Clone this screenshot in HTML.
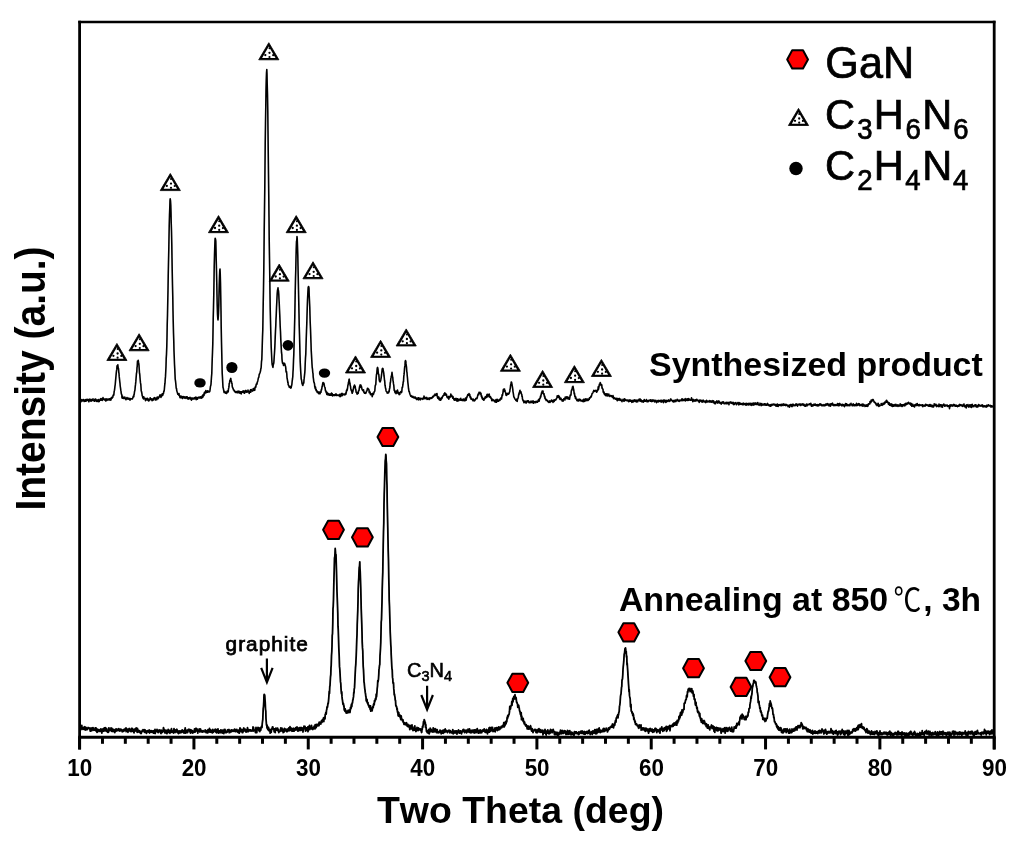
<!DOCTYPE html>
<html lang="en">
<head>
<meta charset="utf-8">
<title>XRD patterns</title>
<style>
html,body{margin:0;padding:0;background:#fff;}
body{width:1024px;height:848px;overflow:hidden;}
svg{display:block;}
text{font-family:"Liberation Sans","Noto Sans CJK KR",sans-serif;fill:#000;font-kerning:none;}
.b{font-weight:bold;}
.cv2{stroke-width:1.8 !important;}
.cv{fill:none;stroke:#000;stroke-width:1.6;stroke-linejoin:round;stroke-linecap:round;}
.ax line{stroke:#000;stroke-width:3.0;}
.tl text{font-weight:bold;font-size:22.4px;}
.ar{fill:none;stroke:#000;stroke-width:2.2;stroke-linecap:butt;stroke-linejoin:miter;}
.th text, text.th{stroke:#000;stroke-width:0.6;}
.lg text{stroke:#000;stroke-width:0.7;}
</style>
</head>
<body>
<svg width="1024" height="848" viewBox="0 0 1024 848">
<defs>
<g id="tri">
<polygon points="0,-17.5 -10.1,-0.4 10.1,-0.4" fill="#000" stroke="#000" stroke-width="0.8" stroke-linejoin="round"/>
<polygon points="0,-13.7 -6.7,-2.15 6.7,-2.15" fill="#fff"/>
<circle cx="0.7" cy="-7.4" r="1.15" fill="#000"/>
<circle cx="-3.5" cy="-5.1" r="1.15" fill="#000"/>
<circle cx="0.7" cy="-3.2" r="1.1" fill="#000"/>
<circle cx="0.7" cy="-11.9" r="1.0" fill="#000"/>
<circle cx="4.4" cy="-5.0" r="1.1" fill="#000"/>
</g>
<g id="hex">
<polygon points="-10.4,0 -5.4,-9.1 5.4,-9.1 10.4,0 5.4,9.1 -5.4,9.1" fill="#ff0000" stroke="#000" stroke-width="2" stroke-linejoin="round"/>
</g>
</defs>
<rect x="0" y="0" width="1024" height="848" fill="#fff"/>
<!-- curves -->
<path class="cv" d="M81.0,401.8 81.2,401.0 81.5,400.6 81.8,399.5 82.0,400.6 82.2,400.7 82.5,401.0 82.8,400.5 83.0,400.6 83.2,400.5 83.5,399.6 83.8,400.9 84.0,401.0 84.2,401.5 84.5,400.5 84.8,400.3 85.0,400.2 85.2,399.7 85.5,401.2 85.8,399.7 86.0,399.6 86.2,400.0 86.5,400.9 86.8,400.0 87.0,399.2 87.2,399.4 87.5,400.2 87.8,399.5 88.0,399.4 88.2,399.8 88.5,400.8 88.8,401.8 89.0,399.9 89.2,400.1 89.5,400.2 89.8,399.1 90.0,400.1 90.2,399.7 90.5,401.0 90.8,400.2 91.0,399.5 91.2,401.1 91.5,400.4 91.8,399.7 92.0,400.5 92.2,400.2 92.5,400.1 92.8,400.3 93.0,398.9 93.2,400.2 93.5,400.7 93.8,400.6 94.0,400.7 94.2,400.9 94.5,401.2 94.8,399.4 95.0,400.6 95.2,399.0 95.5,399.8 95.8,399.2 96.0,400.8 96.2,401.1 96.5,400.0 96.8,401.4 97.0,400.2 97.2,400.7 97.5,400.5 97.8,399.9 98.0,400.7 98.2,401.7 98.5,399.5 98.8,400.6 99.0,400.2 99.2,401.5 99.5,400.4 99.8,400.4 100.0,400.4 100.2,400.1 100.5,398.8 100.8,400.3 101.0,398.5 101.2,399.8 101.5,400.0 101.8,399.1 102.0,399.7 102.2,400.4 102.5,399.4 102.8,398.8 103.0,397.5 103.2,398.8 103.5,399.1 103.8,399.2 104.0,398.9 104.2,399.9 104.5,399.4 104.8,399.4 105.0,400.0 105.2,399.0 105.5,399.3 105.8,401.0 106.0,400.3 106.2,398.8 106.5,399.5 106.8,400.1 107.0,400.3 107.2,399.6 107.5,399.1 107.8,399.1 108.0,399.9 108.2,399.8 108.5,399.1 108.8,399.6 109.0,399.3 109.2,400.0 109.5,398.9 109.8,399.6 110.0,399.8 110.2,399.5 110.5,398.4 110.8,400.2 111.0,398.4 111.2,399.2 111.5,398.3 111.8,397.4 112.0,398.2 112.2,398.1 112.5,397.0 112.8,397.3 113.0,395.8 113.2,395.2 113.5,394.8 113.8,395.2 114.0,393.1 114.2,391.3 114.5,390.2 114.8,387.9 115.0,385.9 115.2,384.8 115.5,381.4 115.8,378.1 116.0,375.8 116.2,373.7 116.5,370.9 116.8,369.4 117.0,366.0 117.2,365.8 117.5,365.3 117.8,364.8 118.0,366.3 118.2,367.9 118.5,368.6 118.8,372.3 119.0,373.5 119.2,376.4 119.5,379.0 119.8,381.8 120.0,383.3 120.2,386.0 120.5,387.9 120.8,390.2 121.0,391.0 121.2,393.1 121.5,394.3 121.8,394.7 122.0,398.0 122.2,396.6 122.5,396.2 122.8,398.3 123.0,397.3 123.2,398.0 123.5,398.4 123.8,397.6 124.0,398.1 124.2,398.1 124.5,398.3 124.8,397.1 125.0,397.5 125.2,398.2 125.5,399.1 125.8,399.1 126.0,399.7 126.2,399.0 126.5,398.2 126.8,398.6 127.0,397.5 127.2,398.3 127.5,398.0 127.8,398.9 128.0,399.2 128.2,398.7 128.5,398.7 128.8,398.1 129.0,398.7 129.2,399.2 129.5,399.1 129.8,398.5 130.0,400.2 130.2,399.7 130.5,398.8 130.8,398.6 131.0,398.7 131.2,399.0 131.5,398.8 131.8,398.7 132.0,398.8 132.2,399.0 132.5,398.8 132.8,397.6 133.0,397.5 133.2,396.4 133.5,395.9 133.8,396.8 134.0,394.2 134.2,394.5 134.5,391.7 134.8,390.8 135.0,389.5 135.2,386.9 135.5,384.7 135.8,381.9 136.0,379.1 136.2,376.5 136.5,373.1 136.8,372.0 137.0,367.6 137.2,366.5 137.5,361.0 137.8,361.6 138.0,361.2 138.2,360.4 138.5,362.2 138.8,363.7 139.0,365.4 139.2,368.7 139.5,373.3 139.8,374.6 140.0,377.5 140.2,380.0 140.5,382.9 140.8,384.3 141.0,387.2 141.2,390.9 141.5,391.5 141.8,393.0 142.0,394.1 142.2,396.0 142.5,396.0 142.8,397.9 143.0,397.6 143.2,397.7 143.5,398.9 143.8,396.8 144.0,398.1 144.2,398.8 144.5,398.3 144.8,398.9 145.0,398.3 145.2,398.4 145.5,400.6 145.8,399.3 146.0,398.8 146.2,399.3 146.5,398.5 146.8,399.3 147.0,399.1 147.2,400.0 147.5,398.4 147.8,400.0 148.0,400.0 148.2,399.1 148.5,400.9 148.8,399.4 149.0,400.7 149.2,400.0 149.5,399.9 149.8,399.2 150.0,399.7 150.2,397.7 150.5,399.3 150.8,399.1 151.0,399.4 151.2,399.2 151.5,399.8 151.8,398.9 152.0,400.6 152.2,400.6 152.5,399.0 152.8,399.2 153.0,399.4 153.2,399.8 153.5,400.0 153.8,398.0 154.0,398.5 154.2,398.0 154.5,397.9 154.8,397.6 155.0,398.9 155.2,398.4 155.5,400.0 155.8,399.5 156.0,398.2 156.2,398.4 156.5,398.4 156.8,399.6 157.0,397.7 157.2,397.1 157.5,398.0 157.8,398.4 158.0,397.2 158.2,398.6 158.5,397.8 158.8,397.7 159.0,396.7 159.2,396.9 159.5,396.6 159.8,395.1 160.0,396.8 160.2,395.0 160.5,396.4 160.8,395.1 161.0,397.4 161.2,396.0 161.5,396.3 161.8,396.1 162.0,394.5 162.2,393.8 162.5,394.7 162.8,395.2 163.0,394.1 163.2,394.0 163.5,393.4 163.8,391.1 164.0,391.1 164.2,391.0 164.5,387.5 164.8,384.4 165.0,383.2 165.2,379.6 165.5,376.4 165.8,370.7 166.0,366.3 166.2,358.6 166.5,354.1 166.8,346.5 167.0,337.2 167.2,324.8 167.5,315.1 167.8,300.5 168.0,290.3 168.2,276.5 168.5,262.2 168.8,250.0 169.0,237.0 169.2,226.1 169.5,215.3 169.8,207.7 170.0,200.3 170.2,198.9 170.5,200.6 170.8,205.3 171.0,212.1 171.2,222.6 171.5,231.2 171.8,244.2 172.0,258.0 172.2,271.1 172.5,285.2 172.8,297.3 173.0,310.9 173.2,321.3 173.5,332.9 173.8,341.5 174.0,351.0 174.2,356.3 174.5,364.2 174.8,369.4 175.0,374.4 175.2,379.1 175.5,380.8 175.8,383.5 176.0,385.8 176.2,388.3 176.5,388.4 176.8,391.1 177.0,391.1 177.2,392.0 177.5,393.1 177.8,394.3 178.0,393.9 178.2,394.1 178.5,394.8 178.8,395.1 179.0,393.6 179.2,395.1 179.5,395.6 179.8,396.8 180.0,397.7 180.2,396.9 180.5,396.5 180.8,396.0 181.0,396.9 181.2,397.7 181.5,397.8 181.8,396.6 182.0,397.2 182.2,397.7 182.5,398.5 182.8,397.4 183.0,396.6 183.2,396.7 183.5,397.0 183.8,396.7 184.0,397.8 184.2,397.9 184.5,397.6 184.8,398.1 185.0,396.9 185.2,397.4 185.5,397.4 185.8,397.5 186.0,398.4 186.2,397.8 186.5,396.7 186.8,397.7 187.0,397.7 187.2,396.9 187.5,397.8 187.8,398.8 188.0,399.1 188.2,397.8 188.5,399.0 188.8,399.0 189.0,397.8 189.2,398.1 189.5,398.0 189.8,398.3 190.0,397.2 190.2,398.0 190.5,398.8 190.8,399.0 191.0,399.6 191.2,398.4 191.5,400.1 191.8,399.1 192.0,397.9 192.2,399.2 192.5,398.4 192.8,399.0 193.0,398.5 193.2,398.9 193.5,398.4 193.8,398.0 194.0,399.0 194.2,398.3 194.5,397.7 194.8,398.7 195.0,397.9 195.2,397.7 195.5,397.8 195.8,397.1 196.0,398.0 196.2,399.6 196.5,397.9 196.8,398.4 197.0,397.6 197.2,397.9 197.5,399.1 197.8,398.5 198.0,397.5 198.2,397.9 198.5,397.3 198.8,397.3 199.0,397.0 199.2,397.3 199.5,398.0 199.8,397.8 200.0,397.9 200.2,397.6 200.5,396.8 200.8,397.6 201.0,397.0 201.2,398.3 201.5,398.0 201.8,397.8 202.0,396.8 202.2,395.8 202.5,397.5 202.8,397.3 203.0,394.9 203.2,395.6 203.5,395.9 203.8,394.0 204.0,395.3 204.2,393.3 204.5,392.3 204.8,393.6 205.0,392.6 205.2,391.7 205.5,392.5 205.8,390.6 206.0,392.8 206.2,391.2 206.5,391.8 206.8,391.3 207.0,391.8 207.2,392.1 207.5,390.8 207.8,392.2 208.0,391.2 208.2,391.3 208.5,391.4 208.8,391.1 209.0,391.0 209.2,392.0 209.5,390.9 209.8,391.5 210.0,390.2 210.2,388.4 210.5,386.2 210.8,385.5 211.0,384.1 211.2,381.1 211.5,376.8 211.8,373.5 212.0,365.9 212.2,359.4 212.5,352.3 212.8,344.0 213.0,331.9 213.2,318.8 213.5,307.2 213.8,294.3 214.0,281.0 214.2,266.7 214.5,255.2 214.8,246.4 215.0,240.2 215.2,238.2 215.5,239.2 215.8,241.2 216.0,249.2 216.2,259.4 216.5,271.0 216.8,283.7 217.0,295.3 217.2,305.2 217.5,314.3 217.8,318.4 218.0,320.0 218.2,317.9 218.5,313.3 218.8,305.3 219.0,294.5 219.2,286.0 219.5,276.7 219.8,270.4 220.0,269.0 220.2,273.0 220.5,283.1 220.8,298.6 221.0,310.7 221.2,327.7 221.5,342.3 221.8,354.5 222.0,364.5 222.2,373.2 222.5,378.1 222.8,383.7 223.0,387.4 223.2,387.8 223.5,389.3 223.8,390.8 224.0,392.2 224.2,392.6 224.5,392.3 224.8,391.5 225.0,391.7 225.2,392.7 225.5,393.2 225.8,392.2 226.0,392.7 226.2,393.0 226.5,393.5 226.8,392.0 227.0,392.8 227.2,391.1 227.5,391.2 227.8,391.4 228.0,391.8 228.2,391.9 228.5,388.7 228.8,387.7 229.0,386.5 229.2,383.6 229.5,383.5 229.8,380.6 230.0,381.4 230.2,380.1 230.5,379.0 230.8,378.4 231.0,380.6 231.2,380.7 231.5,381.6 231.8,383.5 232.0,383.4 232.2,386.1 232.5,387.4 232.8,387.8 233.0,388.5 233.2,388.7 233.5,390.0 233.8,390.1 234.0,390.2 234.2,390.3 234.5,391.5 234.8,391.7 235.0,391.2 235.2,391.8 235.5,392.3 235.8,392.5 236.0,391.9 236.2,391.6 236.5,391.7 236.8,392.0 237.0,392.4 237.2,392.6 237.5,391.7 237.8,391.8 238.0,391.0 238.2,392.7 238.5,391.5 238.8,392.0 239.0,391.4 239.2,391.8 239.5,391.4 239.8,393.1 240.0,392.2 240.2,392.2 240.5,391.7 240.8,391.7 241.0,392.9 241.2,393.9 241.5,391.9 241.8,392.1 242.0,392.2 242.2,391.9 242.5,391.3 242.8,391.9 243.0,392.3 243.2,390.7 243.5,391.7 243.8,392.6 244.0,392.3 244.2,391.5 244.5,393.3 244.8,391.8 245.0,390.8 245.2,392.2 245.5,390.5 245.8,391.9 246.0,390.5 246.2,391.7 246.5,391.2 246.8,392.2 247.0,391.7 247.2,391.6 247.5,391.4 247.8,391.8 248.0,390.1 248.2,391.3 248.5,391.5 248.8,391.6 249.0,391.7 249.2,393.5 249.5,391.3 249.8,391.6 250.0,391.2 250.2,392.2 250.5,389.8 250.8,392.2 251.0,390.7 251.2,389.6 251.5,390.4 251.8,390.8 252.0,390.8 252.2,390.5 252.5,391.1 252.8,390.2 253.0,389.8 253.2,388.6 253.5,390.3 253.8,390.5 254.0,389.4 254.2,388.5 254.5,388.3 254.8,390.1 255.0,387.6 255.2,387.2 255.5,386.6 255.8,387.2 256.0,385.4 256.2,384.9 256.5,383.7 256.8,384.2 257.0,384.1 257.2,382.2 257.5,381.9 257.8,380.7 258.0,379.8 258.2,378.8 258.5,377.6 258.8,377.3 259.0,376.0 259.2,374.4 259.5,374.0 259.8,373.1 260.0,372.8 260.2,372.0 260.5,371.1 260.8,368.8 261.0,368.5 261.2,366.8 261.5,361.5 261.8,359.7 262.0,353.6 262.2,346.6 262.5,337.1 262.8,329.8 263.0,316.5 263.2,303.7 263.5,289.0 263.8,270.2 264.0,251.2 264.2,230.5 264.5,209.6 264.8,188.3 265.0,165.7 265.2,144.0 265.5,123.4 265.8,105.9 266.0,90.2 266.2,81.7 266.5,73.0 266.8,69.5 267.0,73.9 267.2,84.2 267.5,94.4 267.8,111.3 268.0,130.9 268.2,150.6 268.5,174.5 268.8,197.3 269.0,217.3 269.2,239.9 269.5,258.2 269.8,276.4 270.0,294.0 270.2,308.4 270.5,320.4 270.8,332.5 271.0,339.5 271.2,347.4 271.5,353.2 271.8,359.2 272.0,362.7 272.2,365.0 272.5,365.2 272.8,367.0 273.0,367.3 273.2,365.0 273.5,364.0 273.8,363.0 274.0,360.4 274.2,356.7 274.5,352.8 274.8,347.9 275.0,342.9 275.2,337.4 275.5,330.9 275.8,325.5 276.0,319.1 276.2,315.6 276.5,308.0 276.8,302.3 277.0,297.5 277.2,293.6 277.5,290.3 277.8,289.3 278.0,287.9 278.2,290.0 278.5,290.8 278.8,294.6 279.0,299.3 279.2,302.8 279.5,309.5 279.8,315.6 280.0,320.9 280.2,326.7 280.5,331.7 280.8,339.4 281.0,343.0 281.2,347.2 281.5,352.7 281.8,354.3 282.0,359.1 282.2,361.1 282.5,363.0 282.8,363.5 283.0,363.2 283.2,363.1 283.5,365.5 283.8,363.9 284.0,363.4 284.2,364.6 284.5,363.3 284.8,364.1 285.0,364.6 285.2,365.6 285.5,366.1 285.8,368.1 286.0,371.1 286.2,372.2 286.5,371.5 286.8,374.0 287.0,377.5 287.2,378.8 287.5,380.1 287.8,382.6 288.0,382.0 288.2,384.9 288.5,385.1 288.8,385.7 289.0,386.2 289.2,387.1 289.5,386.4 289.8,386.5 290.0,387.5 290.2,387.3 290.5,386.5 290.8,388.1 291.0,387.4 291.2,387.6 291.5,385.8 291.8,385.0 292.0,383.0 292.2,380.8 292.5,379.0 292.8,376.5 293.0,371.8 293.2,369.1 293.5,360.9 293.8,354.8 294.0,347.1 294.2,339.6 294.5,328.0 294.8,316.9 295.0,304.4 295.2,292.3 295.5,279.1 295.8,269.0 296.0,257.9 296.2,249.5 296.5,241.4 296.8,240.1 297.0,236.5 297.2,238.4 297.5,246.2 297.8,255.2 298.0,266.1 298.2,276.0 298.5,290.0 298.8,303.3 299.0,313.7 299.2,325.2 299.5,334.8 299.8,345.8 300.0,354.7 300.2,361.7 300.5,367.6 300.8,372.7 301.0,375.6 301.2,378.9 301.5,379.7 301.8,381.6 302.0,383.5 302.2,383.7 302.5,384.9 302.8,385.5 303.0,384.8 303.2,383.5 303.5,382.8 303.8,382.9 304.0,379.6 304.2,378.2 304.5,375.4 304.8,372.6 305.0,369.6 305.2,363.7 305.5,357.8 305.8,354.1 306.0,346.6 306.2,339.6 306.5,331.3 306.8,323.8 307.0,316.1 307.2,308.8 307.5,300.4 307.8,294.2 308.0,290.3 308.2,287.2 308.5,286.5 308.8,286.9 309.0,288.3 309.2,295.0 309.5,301.2 309.8,307.6 310.0,315.6 310.2,322.5 310.5,328.9 310.8,337.1 311.0,343.0 311.2,350.1 311.5,355.1 311.8,360.2 312.0,364.1 312.2,367.3 312.5,369.2 312.8,372.8 313.0,373.4 313.2,377.2 313.5,379.2 313.8,381.8 314.0,382.2 314.2,382.9 314.5,383.7 314.8,387.2 315.0,386.2 315.2,388.6 315.5,387.0 315.8,389.3 316.0,390.1 316.2,390.6 316.5,390.9 316.8,390.7 317.0,391.0 317.2,392.5 317.5,392.4 317.8,392.4 318.0,392.6 318.2,391.9 318.5,393.3 318.8,393.6 319.0,392.1 319.2,392.6 319.5,393.1 319.8,392.0 320.0,393.8 320.2,393.2 320.5,391.9 320.8,392.4 321.0,392.3 321.2,389.7 321.5,390.0 321.8,388.5 322.0,387.2 322.2,386.6 322.5,384.8 322.8,383.2 323.0,382.5 323.2,382.8 323.5,383.1 323.8,383.0 324.0,383.6 324.2,384.8 324.5,386.6 324.8,387.1 325.0,387.4 325.2,388.9 325.5,391.0 325.8,390.8 326.0,391.5 326.2,392.5 326.5,392.4 326.8,394.3 327.0,392.4 327.2,394.8 327.5,393.8 327.8,393.3 328.0,394.4 328.2,393.5 328.5,394.8 328.8,395.0 329.0,394.3 329.2,394.1 329.5,395.2 329.8,394.0 330.0,394.0 330.2,394.4 330.5,395.1 330.8,393.8 331.0,394.5 331.2,395.3 331.5,393.0 331.8,394.6 332.0,393.6 332.2,393.5 332.5,395.9 332.8,394.8 333.0,395.7 333.2,394.7 333.5,395.2 333.8,394.7 334.0,394.7 334.2,395.1 334.5,395.1 334.8,395.6 335.0,394.5 335.2,395.1 335.5,394.6 335.8,395.1 336.0,393.9 336.2,395.5 336.5,394.7 336.8,395.0 337.0,394.9 337.2,395.4 337.5,395.2 337.8,395.2 338.0,395.0 338.2,395.1 338.5,395.3 338.8,395.0 339.0,395.7 339.2,395.9 339.5,395.4 339.8,394.3 340.0,396.4 340.2,396.7 340.5,395.2 340.8,395.1 341.0,394.1 341.2,395.5 341.5,394.3 341.8,395.9 342.0,393.3 342.2,394.9 342.5,395.4 342.8,394.3 343.0,394.1 343.2,394.8 343.5,394.4 343.8,394.3 344.0,394.5 344.2,394.2 344.5,394.6 344.8,394.9 345.0,394.0 345.2,394.3 345.5,393.6 345.8,394.3 346.0,392.3 346.2,393.2 346.5,390.4 346.8,391.0 347.0,389.4 347.2,390.1 347.5,388.5 347.8,386.0 348.0,384.8 348.2,384.4 348.5,382.1 348.8,381.6 349.0,379.5 349.2,379.2 349.5,381.3 349.8,383.8 350.0,383.0 350.2,385.8 350.5,386.1 350.8,389.0 351.0,389.4 351.2,390.4 351.5,390.2 351.8,392.0 352.0,392.4 352.2,393.3 352.5,391.3 352.8,392.0 353.0,390.6 353.2,389.8 353.5,388.1 353.8,386.8 354.0,386.0 354.2,387.2 354.5,385.1 354.8,385.8 355.0,387.6 355.2,386.3 355.5,389.0 355.8,389.4 356.0,391.1 356.2,392.5 356.5,392.5 356.8,392.9 357.0,394.0 357.2,394.1 357.5,393.3 357.8,393.4 358.0,392.1 358.2,393.3 358.5,390.9 358.8,390.7 359.0,390.7 359.2,389.0 359.5,387.2 359.8,386.0 360.0,385.0 360.2,385.5 360.5,385.0 360.8,385.1 361.0,387.5 361.2,385.9 361.5,386.8 361.8,388.1 362.0,389.3 362.2,389.8 362.5,389.7 362.8,390.6 363.0,390.8 363.2,390.9 363.5,389.7 363.8,392.1 364.0,391.6 364.2,392.4 364.5,393.1 364.8,392.6 365.0,392.7 365.2,393.3 365.5,393.2 365.8,393.4 366.0,392.5 366.2,392.4 366.5,391.0 366.8,391.0 367.0,390.8 367.2,389.5 367.5,388.2 367.8,388.4 368.0,388.5 368.2,389.5 368.5,389.1 368.8,389.5 369.0,389.9 369.2,392.7 369.5,391.3 369.8,391.7 370.0,393.1 370.2,392.5 370.5,394.6 370.8,393.9 371.0,394.4 371.2,393.8 371.5,394.1 371.8,395.0 372.0,395.0 372.2,396.6 372.5,395.5 372.8,393.2 373.0,394.1 373.2,393.8 373.5,394.3 373.8,392.9 374.0,392.8 374.2,391.6 374.5,391.4 374.8,391.2 375.0,388.2 375.2,385.8 375.5,385.1 375.8,384.4 376.0,380.9 376.2,377.8 376.5,374.3 376.8,373.6 377.0,370.6 377.2,368.5 377.5,367.4 377.8,368.0 378.0,369.3 378.2,372.0 378.5,374.5 378.8,374.4 379.0,376.9 379.2,379.7 379.5,381.1 379.8,380.8 380.0,381.9 380.2,381.7 380.5,381.0 380.8,379.7 381.0,378.6 381.2,377.6 381.5,375.2 381.8,373.0 382.0,371.2 382.2,369.0 382.5,368.4 382.8,368.8 383.0,368.7 383.2,370.5 383.5,371.6 383.8,373.4 384.0,376.0 384.2,377.0 384.5,380.2 384.8,381.9 385.0,385.2 385.2,386.0 385.5,388.1 385.8,388.8 386.0,390.4 386.2,391.3 386.5,391.4 386.8,391.8 387.0,392.3 387.2,393.1 387.5,392.5 387.8,392.8 388.0,392.6 388.2,392.2 388.5,392.8 388.8,392.2 389.0,390.7 389.2,391.3 389.5,388.6 389.8,388.2 390.0,386.2 390.2,382.9 390.5,382.1 390.8,378.9 391.0,377.9 391.2,376.6 391.5,375.9 391.8,374.1 392.0,372.4 392.2,374.0 392.5,376.6 392.8,377.5 393.0,380.7 393.2,381.3 393.5,383.9 393.8,385.4 394.0,387.8 394.2,390.4 394.5,390.1 394.8,392.0 395.0,392.4 395.2,392.7 395.5,392.0 395.8,392.2 396.0,393.6 396.2,391.0 396.5,392.1 396.8,392.3 397.0,391.8 397.2,392.9 397.5,390.1 397.8,392.0 398.0,391.8 398.2,393.0 398.5,393.6 398.8,393.9 399.0,393.3 399.2,394.6 399.5,392.9 399.8,394.3 400.0,393.2 400.2,392.2 400.5,392.3 400.8,391.6 401.0,391.7 401.2,392.2 401.5,392.6 401.8,391.7 402.0,389.0 402.2,387.2 402.5,387.5 402.8,385.3 403.0,384.2 403.2,381.9 403.5,381.6 403.8,376.3 404.0,374.9 404.2,373.2 404.5,368.9 404.8,366.1 405.0,365.4 405.2,361.3 405.5,360.6 405.8,361.1 406.0,363.4 406.2,365.1 406.5,367.1 406.8,371.7 407.0,372.5 407.2,375.5 407.5,378.2 407.8,381.9 408.0,383.6 408.2,385.4 408.5,388.5 408.8,390.2 409.0,391.6 409.2,391.3 409.5,392.4 409.8,393.8 410.0,394.2 410.2,394.7 410.5,395.4 410.8,396.3 411.0,395.6 411.2,396.4 411.5,396.0 411.8,396.5 412.0,396.8 412.2,397.3 412.5,397.1 412.8,396.2 413.0,397.1 413.2,397.2 413.5,397.2 413.8,397.1 414.0,398.0 414.2,397.7 414.5,397.0 414.8,397.0 415.0,396.9 415.2,398.2 415.5,397.5 415.8,397.9 416.0,398.0 416.2,398.7 416.5,399.4 416.8,398.2 417.0,399.5 417.2,398.5 417.5,399.1 417.8,398.2 418.0,397.8 418.2,399.0 418.5,399.8 418.8,397.9 419.0,399.0 419.2,399.1 419.5,399.4 419.8,398.2 420.0,398.2 420.2,399.1 420.5,399.8 420.8,398.4 421.0,399.0 421.2,398.7 421.5,398.8 421.8,398.5 422.0,398.6 422.2,398.3 422.5,398.7 422.8,399.3 423.0,398.4 423.2,398.7 423.5,397.9 423.8,398.6 424.0,396.1 424.2,397.1 424.5,397.9 424.8,397.3 425.0,398.8 425.2,398.5 425.5,398.0 425.8,398.5 426.0,397.9 426.2,398.1 426.5,398.3 426.8,397.4 427.0,399.4 427.2,398.3 427.5,399.3 427.8,398.6 428.0,399.1 428.2,398.2 428.5,398.6 428.8,398.3 429.0,398.8 429.2,399.5 429.5,398.0 429.8,397.9 430.0,398.5 430.2,398.7 430.5,398.2 430.8,397.8 431.0,397.8 431.2,398.2 431.5,398.4 431.8,397.5 432.0,397.6 432.2,397.9 432.5,397.2 432.8,396.4 433.0,397.3 433.2,396.8 433.5,396.5 433.8,396.3 434.0,395.3 434.2,395.7 434.5,395.6 434.8,395.2 435.0,394.1 435.2,395.2 435.5,395.3 435.8,395.4 436.0,394.6 436.2,395.0 436.5,393.9 436.8,394.5 437.0,393.6 437.2,395.7 437.5,397.4 437.8,398.1 438.0,396.6 438.2,398.0 438.5,398.7 438.8,398.1 439.0,397.3 439.2,399.6 439.5,398.6 439.8,398.6 440.0,400.2 440.2,399.1 440.5,399.5 440.8,400.1 441.0,398.6 441.2,397.9 441.5,398.9 441.8,398.0 442.0,398.3 442.2,397.7 442.5,396.4 442.8,396.6 443.0,395.8 443.2,395.6 443.5,395.3 443.8,395.1 444.0,394.7 444.2,393.5 444.5,394.5 444.8,392.9 445.0,395.1 445.2,393.3 445.5,394.0 445.8,395.0 446.0,394.2 446.2,394.1 446.5,394.7 446.8,396.4 447.0,396.8 447.2,397.4 447.5,397.5 447.8,397.1 448.0,397.9 448.2,398.2 448.5,396.5 448.8,399.1 449.0,396.5 449.2,397.4 449.5,397.7 449.8,396.9 450.0,396.3 450.2,396.6 450.5,396.9 450.8,394.0 451.0,395.8 451.2,395.3 451.5,395.0 451.8,395.8 452.0,396.1 452.2,396.9 452.5,396.5 452.8,398.3 453.0,396.6 453.2,397.7 453.5,398.1 453.8,399.3 454.0,398.9 454.2,400.0 454.5,399.1 454.8,400.3 455.0,399.9 455.2,399.0 455.5,398.5 455.8,398.5 456.0,398.3 456.2,400.1 456.5,400.1 456.8,399.1 457.0,401.1 457.2,399.5 457.5,398.8 457.8,400.8 458.0,400.9 458.2,400.0 458.5,399.3 458.8,400.7 459.0,399.5 459.2,399.8 459.5,400.1 459.8,400.0 460.0,399.4 460.2,398.8 460.5,400.1 460.8,398.3 461.0,399.8 461.2,399.8 461.5,400.1 461.8,399.8 462.0,400.3 462.2,400.6 462.5,399.5 462.8,400.0 463.0,400.2 463.2,399.0 463.5,399.0 463.8,400.7 464.0,400.4 464.2,399.2 464.5,400.1 464.8,399.8 465.0,400.7 465.2,400.4 465.5,398.1 465.8,399.2 466.0,400.2 466.2,400.2 466.5,398.2 466.8,397.0 467.0,397.4 467.2,396.1 467.5,395.9 467.8,394.5 468.0,395.4 468.2,395.2 468.5,395.3 468.8,394.3 469.0,393.6 469.2,394.2 469.5,395.6 469.8,394.6 470.0,396.6 470.2,397.7 470.5,396.6 470.8,397.7 471.0,399.1 471.2,399.1 471.5,398.3 471.8,398.9 472.0,399.2 472.2,399.2 472.5,399.9 472.8,399.8 473.0,400.8 473.2,399.0 473.5,400.8 473.8,400.8 474.0,400.1 474.2,400.4 474.5,400.8 474.8,400.2 475.0,399.7 475.2,400.0 475.5,399.2 475.8,398.6 476.0,398.7 476.2,398.3 476.5,398.7 476.8,398.8 477.0,397.7 477.2,398.1 477.5,396.4 477.8,395.3 478.0,394.6 478.2,394.0 478.5,393.9 478.8,394.7 479.0,392.3 479.2,393.2 479.5,392.6 479.8,393.1 480.0,392.2 480.2,393.2 480.5,393.1 480.8,394.4 481.0,393.3 481.2,395.9 481.5,396.6 481.8,396.0 482.0,398.2 482.2,397.2 482.5,399.1 482.8,399.0 483.0,399.5 483.2,399.6 483.5,398.5 483.8,400.3 484.0,399.9 484.2,398.2 484.5,399.0 484.8,398.7 485.0,397.7 485.2,396.9 485.5,398.0 485.8,396.7 486.0,397.2 486.2,397.5 486.5,396.2 486.8,394.9 487.0,396.1 487.2,394.4 487.5,394.7 487.8,397.0 488.0,394.5 488.2,395.5 488.5,394.8 488.8,395.5 489.0,395.8 489.2,394.1 489.5,395.9 489.8,397.1 490.0,397.5 490.2,397.5 490.5,396.7 490.8,398.2 491.0,397.8 491.2,398.0 491.5,398.9 491.8,400.7 492.0,399.0 492.2,400.6 492.5,400.2 492.8,399.4 493.0,399.9 493.2,400.3 493.5,400.1 493.8,400.7 494.0,400.3 494.2,400.4 494.5,401.6 494.8,400.8 495.0,400.6 495.2,401.1 495.5,402.1 495.8,400.3 496.0,399.6 496.2,401.3 496.5,402.2 496.8,401.4 497.0,399.6 497.2,399.4 497.5,401.2 497.8,400.2 498.0,400.6 498.2,400.0 498.5,401.2 498.8,400.4 499.0,400.0 499.2,400.5 499.5,399.7 499.8,400.5 500.0,400.3 500.2,398.7 500.5,398.9 500.8,398.4 501.0,397.8 501.2,398.8 501.5,398.9 501.8,397.4 502.0,395.6 502.2,394.6 502.5,395.4 502.8,393.5 503.0,392.3 503.2,390.3 503.5,389.2 503.8,391.5 504.0,389.1 504.2,389.2 504.5,389.0 504.8,391.2 505.0,390.5 505.2,391.5 505.5,392.6 505.8,393.6 506.0,395.2 506.2,393.4 506.5,395.4 506.8,394.6 507.0,394.7 507.2,394.2 507.5,394.5 507.8,393.2 508.0,393.4 508.2,394.3 508.5,393.7 508.8,393.4 509.0,393.6 509.2,393.0 509.5,392.1 509.8,391.5 510.0,389.3 510.2,389.0 510.5,386.0 510.8,384.4 511.0,384.5 511.2,382.1 511.5,382.1 511.8,383.3 512.0,385.0 512.2,385.7 512.5,387.5 512.8,389.4 513.0,391.8 513.2,392.7 513.5,394.7 513.8,397.0 514.0,396.9 514.2,397.6 514.5,398.0 514.8,398.8 515.0,399.0 515.2,399.3 515.5,399.4 515.8,400.2 516.0,400.5 516.2,399.9 516.5,400.3 516.8,399.1 517.0,401.2 517.2,401.3 517.5,399.0 517.8,398.9 518.0,398.1 518.2,397.8 518.5,395.6 518.8,393.8 519.0,394.6 519.2,392.7 519.5,392.5 519.8,390.8 520.0,390.3 520.2,391.8 520.5,392.6 520.8,391.7 521.0,391.9 521.2,393.6 521.5,394.0 521.8,394.4 522.0,396.7 522.2,396.2 522.5,399.1 522.8,399.7 523.0,400.7 523.2,400.3 523.5,401.2 523.8,402.2 524.0,402.7 524.2,402.5 524.5,402.0 524.8,401.1 525.0,402.2 525.2,401.8 525.5,401.6 525.8,402.9 526.0,401.3 526.2,403.0 526.5,401.5 526.8,401.3 527.0,401.8 527.2,400.9 527.5,401.4 527.8,401.9 528.0,400.7 528.2,401.3 528.5,400.9 528.8,401.5 529.0,402.7 529.2,401.9 529.5,402.3 529.8,402.6 530.0,402.0 530.2,402.8 530.5,402.0 530.8,402.0 531.0,401.1 531.2,401.5 531.5,402.5 531.8,402.4 532.0,401.5 532.2,402.0 532.5,401.6 532.8,401.2 533.0,400.8 533.2,403.3 533.5,401.6 533.8,402.3 534.0,402.9 534.2,401.7 534.5,401.7 534.8,402.0 535.0,401.6 535.2,401.8 535.5,401.6 535.8,402.7 536.0,402.3 536.2,401.5 536.5,401.3 536.8,401.6 537.0,401.5 537.2,401.3 537.5,402.3 537.8,401.3 538.0,401.2 538.2,401.2 538.5,399.6 538.8,401.2 539.0,401.1 539.2,401.1 539.5,398.9 539.8,398.6 540.0,398.7 540.2,397.6 540.5,396.1 540.8,396.9 541.0,395.1 541.2,394.6 541.5,392.8 541.8,393.4 542.0,391.8 542.2,391.0 542.5,391.8 542.8,392.1 543.0,391.0 543.2,392.9 543.5,394.0 543.8,393.9 544.0,393.6 544.2,395.6 544.5,396.7 544.8,396.1 545.0,398.6 545.2,397.9 545.5,398.5 545.8,399.5 546.0,399.4 546.2,400.5 546.5,400.0 546.8,400.3 547.0,400.1 547.2,400.4 547.5,401.0 547.8,401.4 548.0,401.1 548.2,401.9 548.5,401.3 548.8,402.4 549.0,402.0 549.2,401.5 549.5,400.9 549.8,401.4 550.0,402.4 550.2,401.4 550.5,401.9 550.8,401.5 551.0,401.1 551.2,400.7 551.5,400.0 551.8,401.2 552.0,401.3 552.2,401.2 552.5,401.6 552.8,400.6 553.0,402.4 553.2,400.2 553.5,401.2 553.8,400.0 554.0,400.6 554.2,401.4 554.5,399.7 554.8,400.4 555.0,400.4 555.2,400.0 555.5,400.0 555.8,399.9 556.0,399.4 556.2,398.8 556.5,398.7 556.8,397.8 557.0,397.2 557.2,395.9 557.5,397.1 557.8,396.0 558.0,397.1 558.2,395.9 558.5,395.6 558.8,397.2 559.0,396.4 559.2,396.2 559.5,398.6 559.8,397.4 560.0,399.4 560.2,398.2 560.5,399.4 560.8,399.3 561.0,398.4 561.2,399.5 561.5,399.3 561.8,399.8 562.0,400.4 562.2,401.0 562.5,399.8 562.8,399.8 563.0,401.2 563.2,400.4 563.5,400.4 563.8,398.8 564.0,398.7 564.2,399.1 564.5,398.9 564.8,398.8 565.0,399.9 565.2,397.1 565.5,397.2 565.8,397.7 566.0,397.4 566.2,397.8 566.5,397.2 566.8,396.8 567.0,398.8 567.2,397.9 567.5,397.0 567.8,397.6 568.0,398.3 568.2,397.4 568.5,399.0 568.8,398.3 569.0,398.2 569.2,398.1 569.5,399.3 569.8,397.6 570.0,396.4 570.2,395.0 570.5,395.1 570.8,395.3 571.0,394.7 571.2,392.0 571.5,390.0 571.8,390.4 572.0,389.0 572.2,388.8 572.5,386.9 572.8,387.1 573.0,386.2 573.2,387.5 573.5,388.9 573.8,390.2 574.0,392.0 574.2,393.8 574.5,393.3 574.8,396.3 575.0,395.8 575.2,396.7 575.5,398.5 575.8,397.0 576.0,398.0 576.2,398.7 576.5,399.4 576.8,400.2 577.0,400.6 577.2,399.4 577.5,400.3 577.8,399.7 578.0,401.0 578.2,400.0 578.5,400.9 578.8,399.4 579.0,400.7 579.2,399.4 579.5,400.4 579.8,399.3 580.0,400.5 580.2,400.0 580.5,399.7 580.8,400.4 581.0,400.9 581.2,400.3 581.5,400.5 581.8,400.6 582.0,400.9 582.2,401.1 582.5,400.4 582.8,401.5 583.0,400.1 583.2,400.7 583.5,399.3 583.8,401.6 584.0,400.0 584.2,400.7 584.5,401.2 584.8,399.8 585.0,399.4 585.2,398.8 585.5,399.8 585.8,400.9 586.0,399.5 586.2,400.6 586.5,400.2 586.8,399.3 587.0,398.8 587.2,399.7 587.5,400.4 587.8,400.2 588.0,400.2 588.2,400.3 588.5,399.6 588.8,398.9 589.0,399.3 589.2,399.5 589.5,397.8 589.8,397.7 590.0,397.5 590.2,397.9 590.5,397.5 590.8,397.1 591.0,396.1 591.2,396.9 591.5,395.7 591.8,395.0 592.0,393.7 592.2,393.7 592.5,393.1 592.8,393.0 593.0,392.5 593.2,391.7 593.5,391.4 593.8,390.4 594.0,391.4 594.2,391.4 594.5,391.1 594.8,390.5 595.0,391.1 595.2,390.9 595.5,390.5 595.8,391.1 596.0,390.4 596.2,390.3 596.5,392.2 596.8,391.8 597.0,391.8 597.2,390.5 597.5,390.7 597.8,390.4 598.0,389.2 598.2,386.9 598.5,389.3 598.8,387.7 599.0,386.8 599.2,385.2 599.5,384.0 599.8,384.4 600.0,384.1 600.2,382.6 600.5,383.2 600.8,384.3 601.0,385.4 601.2,385.1 601.5,384.7 601.8,384.9 602.0,388.1 602.2,387.7 602.5,388.8 602.8,389.0 603.0,389.1 603.2,392.3 603.5,391.9 603.8,392.9 604.0,392.0 604.2,393.2 604.5,394.7 604.8,393.7 605.0,393.8 605.2,394.0 605.5,394.0 605.8,395.7 606.0,395.1 606.2,393.7 606.5,395.7 606.8,395.8 607.0,395.8 607.2,393.8 607.5,395.2 607.8,395.9 608.0,394.5 608.2,395.0 608.5,395.3 608.8,394.0 609.0,395.5 609.2,395.9 609.5,395.8 609.8,396.5 610.0,395.6 610.2,395.5 610.5,395.7 610.8,395.5 611.0,395.6 611.2,395.7 611.5,396.4 611.8,396.1 612.0,396.8 612.2,396.4 612.5,397.1 612.8,396.1 613.0,395.6 613.2,396.4 613.5,398.6 613.8,398.1 614.0,397.6 614.2,397.9 614.5,398.3 614.8,398.1 615.0,398.6 615.2,399.0 615.5,399.2 615.8,398.3 616.0,398.4 616.2,398.7 616.5,398.9 616.8,399.7 617.0,398.4 617.2,400.7 617.5,399.8 617.8,400.3 618.0,398.7 618.2,399.3 618.5,399.3 618.8,399.9 619.0,398.5 619.2,400.0 619.5,398.6 619.8,400.0 620.0,400.3 620.2,399.4 620.5,399.2 620.8,399.3 621.0,399.6 621.2,400.3 621.5,400.8 621.8,400.8 622.0,401.6 622.2,400.7 622.5,400.2 622.8,400.2 623.0,399.4 623.2,400.0 623.5,399.8 623.8,401.2 624.0,400.4 624.2,401.1 624.5,398.7 624.8,400.1 625.0,400.6 625.2,400.3 625.5,399.5 625.8,400.1 626.0,400.1 626.2,400.4 626.5,400.4 626.8,400.6 627.0,400.1 627.2,400.6 627.5,400.4 627.8,400.9 628.0,400.1 628.2,401.1 628.5,400.7 628.8,401.7 629.0,400.4 629.2,400.8 629.5,400.5 629.8,399.9 630.0,401.2 630.2,400.7 630.5,400.3 630.8,401.3 631.0,400.4 631.2,400.9 631.5,401.5 631.8,402.3 632.0,400.8 632.2,401.9 632.5,401.1 632.8,400.4 633.0,401.2 633.2,402.0 633.5,401.4 633.8,401.5 634.0,400.6 634.2,399.7 634.5,401.1 634.8,400.1 635.0,400.9 635.2,400.8 635.5,401.2 635.8,401.6 636.0,400.1 636.2,401.1 636.5,400.9 636.8,401.9 637.0,400.7 637.2,400.3 637.5,400.2 637.8,401.6 638.0,400.0 638.2,400.7 638.5,400.6 638.8,399.7 639.0,399.7 639.2,399.1 639.5,400.0 639.8,400.9 640.0,400.4 640.2,399.1 640.5,401.2 640.8,399.6 641.0,400.0 641.2,401.5 641.5,400.8 641.8,400.6 642.0,401.9 642.2,401.1 642.5,401.6 642.8,400.8 643.0,401.2 643.2,401.3 643.5,402.1 643.8,400.7 644.0,400.9 644.2,399.5 644.5,399.8 644.8,401.2 645.0,400.5 645.2,400.5 645.5,401.2 645.8,400.6 646.0,400.8 646.2,400.7 646.5,399.5 646.8,401.1 647.0,401.7 647.2,401.7 647.5,400.9 647.8,400.9 648.0,400.8 648.2,401.6 648.5,401.4 648.8,400.3 649.0,400.4 649.2,400.6 649.5,400.4 649.8,400.5 650.0,400.8 650.2,399.7 650.5,401.3 650.8,400.7 651.0,400.1 651.2,401.0 651.5,400.6 651.8,401.6 652.0,400.1 652.2,401.0 652.5,401.1 652.8,400.3 653.0,399.9 653.2,400.8 653.5,400.6 653.8,400.2 654.0,400.1 654.2,401.4 654.5,401.8 654.8,400.5 655.0,401.2 655.2,401.6 655.5,401.4 655.8,400.2 656.0,401.0 656.2,401.3 656.5,402.6 656.8,401.4 657.0,401.8 657.2,401.8 657.5,401.7 657.8,400.6 658.0,401.4 658.2,402.0 658.5,400.6 658.8,401.1 659.0,400.4 659.2,401.1 659.5,401.1 659.8,401.4 660.0,400.6 660.2,400.6 660.5,400.4 660.8,401.0 661.0,400.9 661.2,402.2 661.5,400.4 661.8,401.4 662.0,400.7 662.2,400.7 662.5,401.6 662.8,401.4 663.0,401.4 663.2,400.1 663.5,402.6 663.8,402.4 664.0,400.7 664.2,400.1 664.5,400.7 664.8,401.2 665.0,400.4 665.2,401.1 665.5,400.5 665.8,402.5 666.0,400.7 666.2,400.4 666.5,402.0 666.8,401.1 667.0,400.6 667.2,400.6 667.5,401.3 667.8,400.8 668.0,400.9 668.2,400.4 668.5,399.9 668.8,400.6 669.0,400.8 669.2,401.4 669.5,400.6 669.8,400.3 670.0,400.8 670.2,400.9 670.5,399.1 670.8,400.2 671.0,399.1 671.2,399.4 671.5,399.8 671.8,400.2 672.0,400.4 672.2,400.5 672.5,401.5 672.8,400.9 673.0,400.9 673.2,400.6 673.5,401.9 673.8,401.5 674.0,400.5 674.2,400.3 674.5,401.3 674.8,401.6 675.0,400.7 675.2,401.4 675.5,400.1 675.8,400.7 676.0,401.4 676.2,400.2 676.5,400.4 676.8,400.4 677.0,400.3 677.2,399.4 677.5,400.2 677.8,400.7 678.0,400.7 678.2,401.0 678.5,401.1 678.8,400.3 679.0,400.1 679.2,401.4 679.5,400.7 679.8,400.3 680.0,400.3 680.2,400.8 680.5,400.7 680.8,400.1 681.0,400.3 681.2,399.9 681.5,399.4 681.8,400.6 682.0,398.7 682.2,400.1 682.5,399.1 682.8,399.4 683.0,400.6 683.2,399.7 683.5,399.9 683.8,399.6 684.0,399.7 684.2,400.0 684.5,400.4 684.8,399.3 685.0,400.1 685.2,398.5 685.5,400.9 685.8,399.4 686.0,399.7 686.2,400.1 686.5,399.8 686.8,399.7 687.0,398.9 687.2,400.5 687.5,400.3 687.8,399.4 688.0,398.9 688.2,399.9 688.5,400.4 688.8,398.6 689.0,399.0 689.2,399.9 689.5,399.5 689.8,399.9 690.0,399.8 690.2,400.3 690.5,400.2 690.8,400.2 691.0,400.1 691.2,399.2 691.5,397.9 691.8,400.0 692.0,400.2 692.2,400.2 692.5,399.9 692.8,401.7 693.0,399.2 693.2,400.6 693.5,400.5 693.8,400.7 694.0,401.0 694.2,400.1 694.5,400.0 694.8,400.1 695.0,401.1 695.2,400.9 695.5,400.9 695.8,399.8 696.0,399.7 696.2,400.6 696.5,400.7 696.8,399.3 697.0,399.5 697.2,400.1 697.5,400.4 697.8,400.5 698.0,400.9 698.2,400.2 698.5,400.8 698.8,401.5 699.0,400.7 699.2,402.4 699.5,400.7 699.8,401.0 700.0,399.9 700.2,401.0 700.5,400.8 700.8,400.7 701.0,401.4 701.2,400.8 701.5,401.7 701.8,400.3 702.0,401.3 702.2,402.2 702.5,401.3 702.8,401.7 703.0,400.5 703.2,400.2 703.5,401.8 703.8,401.6 704.0,401.6 704.2,401.0 704.5,401.8 704.8,401.3 705.0,402.0 705.2,401.9 705.5,401.1 705.8,402.6 706.0,402.0 706.2,402.1 706.5,400.4 706.8,400.7 707.0,401.1 707.2,401.5 707.5,401.9 707.8,401.4 708.0,401.3 708.2,401.7 708.5,401.1 708.8,401.6 709.0,402.0 709.2,401.1 709.5,401.8 709.8,400.5 710.0,400.9 710.2,401.9 710.5,401.1 710.8,401.8 711.0,401.6 711.2,401.1 711.5,402.2 711.8,401.7 712.0,401.2 712.2,401.3 712.5,401.5 712.8,400.7 713.0,402.5 713.2,401.8 713.5,400.9 713.8,401.3 714.0,402.9 714.2,402.3 714.5,403.5 714.8,402.3 715.0,402.7 715.2,403.8 715.5,403.7 715.8,401.8 716.0,402.8 716.2,401.5 716.5,401.8 716.8,400.9 717.0,402.1 717.2,401.2 717.5,401.4 717.8,403.1 718.0,402.8 718.2,402.1 718.5,401.0 718.8,402.3 719.0,401.0 719.2,401.6 719.5,402.8 719.8,403.0 720.0,402.6 720.2,403.1 720.5,402.9 720.8,402.4 721.0,403.1 721.2,404.2 721.5,402.8 721.8,403.0 722.0,403.2 722.2,402.1 722.5,402.0 722.8,401.9 723.0,403.0 723.2,402.4 723.5,401.9 723.8,402.2 724.0,403.6 724.2,403.6 724.5,403.3 724.8,403.3 725.0,403.8 725.2,403.8 725.5,403.5 725.8,402.7 726.0,402.4 726.2,402.5 726.5,403.1 726.8,403.8 727.0,402.4 727.2,402.3 727.5,403.6 727.8,403.5 728.0,402.7 728.2,402.6 728.5,402.7 728.8,403.1 729.0,404.8 729.2,402.4 729.5,402.9 729.8,402.3 730.0,402.8 730.2,402.8 730.5,402.7 730.8,401.9 731.0,402.0 731.2,403.3 731.5,403.1 731.8,403.0 732.0,403.3 732.2,402.6 732.5,403.8 732.8,402.8 733.0,402.5 733.2,402.4 733.5,403.0 733.8,404.7 734.0,403.3 734.2,403.6 734.5,404.3 734.8,403.0 735.0,402.8 735.2,403.3 735.5,403.4 735.8,402.6 736.0,403.2 736.2,403.4 736.5,404.7 736.8,403.8 737.0,403.5 737.2,403.2 737.5,403.1 737.8,402.7 738.0,403.7 738.2,402.5 738.5,403.7 738.8,404.9 739.0,403.6 739.2,403.9 739.5,403.3 739.8,402.7 740.0,404.1 740.2,403.7 740.5,404.2 740.8,404.0 741.0,404.3 741.2,403.6 741.5,404.2 741.8,404.3 742.0,403.8 742.2,403.8 742.5,404.7 742.8,404.4 743.0,403.9 743.2,403.0 743.5,403.9 743.8,404.8 744.0,403.7 744.2,403.8 744.5,403.5 744.8,404.1 745.0,404.1 745.2,404.3 745.5,403.7 745.8,403.5 746.0,405.3 746.2,403.9 746.5,403.4 746.8,403.9 747.0,404.2 747.2,404.6 747.5,403.9 747.8,404.0 748.0,404.6 748.2,403.4 748.5,403.6 748.8,405.0 749.0,404.3 749.2,404.3 749.5,403.7 749.8,403.3 750.0,404.0 750.2,403.9 750.5,404.9 750.8,403.4 751.0,403.9 751.2,403.7 751.5,403.5 751.8,405.4 752.0,405.3 752.2,404.3 752.5,403.4 752.8,404.5 753.0,404.5 753.2,403.7 753.5,403.0 753.8,405.1 754.0,403.2 754.2,404.6 754.5,403.4 754.8,403.5 755.0,404.2 755.2,402.9 755.5,403.3 755.8,403.6 756.0,404.5 756.2,404.3 756.5,403.6 756.8,403.2 757.0,404.5 757.2,403.6 757.5,404.0 757.8,402.5 758.0,403.7 758.2,404.6 758.5,404.1 758.8,404.6 759.0,405.1 759.2,405.3 759.5,404.4 759.8,403.7 760.0,403.2 760.2,404.4 760.5,403.7 760.8,405.2 761.0,403.8 761.2,405.6 761.5,404.8 761.8,403.6 762.0,404.9 762.2,405.1 762.5,404.9 762.8,404.6 763.0,404.9 763.2,405.0 763.5,404.5 763.8,404.7 764.0,403.8 764.2,404.9 764.5,403.7 764.8,404.3 765.0,403.8 765.2,405.2 765.5,404.9 765.8,404.3 766.0,405.0 766.2,404.5 766.5,405.2 766.8,404.6 767.0,404.6 767.2,404.2 767.5,403.4 767.8,404.9 768.0,405.2 768.2,404.4 768.5,405.1 768.8,405.4 769.0,405.4 769.2,405.8 769.5,405.8 769.8,404.8 770.0,406.1 770.2,405.1 770.5,404.8 770.8,406.2 771.0,404.6 771.2,405.6 771.5,404.6 771.8,405.5 772.0,405.3 772.2,404.3 772.5,404.9 772.8,404.9 773.0,404.4 773.2,404.6 773.5,404.3 773.8,404.3 774.0,403.9 774.2,404.8 774.5,405.0 774.8,405.0 775.0,405.0 775.2,405.3 775.5,404.6 775.8,406.0 776.0,404.4 776.2,405.6 776.5,404.8 776.8,404.6 777.0,406.3 777.2,405.2 777.5,404.1 777.8,405.1 778.0,404.4 778.2,406.4 778.5,404.7 778.8,404.9 779.0,404.7 779.2,404.6 779.5,405.3 779.8,405.4 780.0,405.2 780.2,404.5 780.5,404.5 780.8,405.3 781.0,404.8 781.2,405.8 781.5,404.3 781.8,405.4 782.0,404.6 782.2,404.7 782.5,404.3 782.8,404.3 783.0,405.5 783.2,404.5 783.5,404.1 783.8,403.9 784.0,404.2 784.2,404.3 784.5,405.2 784.8,404.8 785.0,405.1 785.2,405.0 785.5,405.6 785.8,404.3 786.0,405.2 786.2,404.5 786.5,404.7 786.8,405.5 787.0,405.4 787.2,405.3 787.5,405.0 787.8,405.7 788.0,406.6 788.2,405.7 788.5,405.8 788.8,405.3 789.0,405.9 789.2,405.0 789.5,407.1 789.8,405.4 790.0,405.2 790.2,405.8 790.5,404.5 790.8,404.7 791.0,404.7 791.2,405.0 791.5,406.2 791.8,404.6 792.0,406.6 792.2,405.6 792.5,406.0 792.8,405.2 793.0,404.1 793.2,404.4 793.5,405.8 793.8,404.8 794.0,405.3 794.2,405.2 794.5,405.7 794.8,405.7 795.0,405.1 795.2,405.0 795.5,405.5 795.8,404.0 796.0,404.4 796.2,404.0 796.5,404.3 796.8,404.0 797.0,405.5 797.2,404.7 797.5,406.1 797.8,404.7 798.0,404.9 798.2,404.3 798.5,404.8 798.8,404.6 799.0,404.3 799.2,404.6 799.5,404.1 799.8,404.2 800.0,404.1 800.2,405.4 800.5,404.5 800.8,404.1 801.0,405.4 801.2,405.0 801.5,404.4 801.8,404.6 802.0,404.7 802.2,404.1 802.5,404.8 802.8,404.1 803.0,403.8 803.2,404.8 803.5,405.3 803.8,405.4 804.0,404.4 804.2,405.1 804.5,404.8 804.8,406.2 805.0,405.2 805.2,405.3 805.5,406.2 805.8,405.8 806.0,405.2 806.2,404.3 806.5,404.7 806.8,404.1 807.0,406.0 807.2,404.7 807.5,405.1 807.8,404.8 808.0,404.3 808.2,404.5 808.5,404.6 808.8,404.5 809.0,404.4 809.2,404.6 809.5,403.8 809.8,404.2 810.0,404.1 810.2,403.9 810.5,404.6 810.8,403.2 811.0,404.0 811.2,405.0 811.5,406.3 811.8,405.8 812.0,405.0 812.2,406.1 812.5,405.5 812.8,404.8 813.0,404.9 813.2,405.8 813.5,405.3 813.8,404.5 814.0,404.2 814.2,405.1 814.5,404.3 814.8,404.7 815.0,405.2 815.2,404.1 815.5,404.5 815.8,405.1 816.0,404.8 816.2,405.6 816.5,404.8 816.8,405.3 817.0,405.5 817.2,404.5 817.5,405.6 817.8,406.0 818.0,405.1 818.2,404.7 818.5,404.8 818.8,405.8 819.0,405.0 819.2,404.7 819.5,404.0 819.8,404.7 820.0,403.8 820.2,405.0 820.5,404.1 820.8,404.0 821.0,405.2 821.2,405.0 821.5,405.0 821.8,404.7 822.0,405.9 822.2,405.4 822.5,405.1 822.8,405.5 823.0,405.5 823.2,405.0 823.5,405.7 823.8,404.8 824.0,404.6 824.2,405.2 824.5,405.1 824.8,405.8 825.0,404.9 825.2,404.7 825.5,404.8 825.8,405.3 826.0,403.8 826.2,403.8 826.5,404.7 826.8,405.0 827.0,405.1 827.2,404.7 827.5,403.9 827.8,403.6 828.0,404.8 828.2,404.5 828.5,405.0 828.8,405.7 829.0,404.5 829.2,405.9 829.5,404.6 829.8,404.7 830.0,405.0 830.2,403.8 830.5,406.2 830.8,404.5 831.0,405.3 831.2,404.3 831.5,403.9 831.8,404.1 832.0,404.0 832.2,403.4 832.5,403.2 832.8,405.1 833.0,404.2 833.2,404.6 833.5,405.5 833.8,404.6 834.0,405.1 834.2,405.6 834.5,405.0 834.8,405.3 835.0,404.5 835.2,404.7 835.5,405.5 835.8,404.8 836.0,405.4 836.2,405.5 836.5,405.2 836.8,405.2 837.0,404.6 837.2,405.3 837.5,403.5 837.8,404.3 838.0,404.9 838.2,405.8 838.5,403.9 838.8,404.8 839.0,405.3 839.2,405.6 839.5,404.5 839.8,403.4 840.0,404.8 840.2,405.0 840.5,404.8 840.8,404.9 841.0,405.0 841.2,404.4 841.5,405.4 841.8,405.8 842.0,405.4 842.2,404.6 842.5,404.4 842.8,405.4 843.0,404.6 843.2,405.7 843.5,405.0 843.8,404.8 844.0,405.7 844.2,405.3 844.5,406.7 844.8,406.1 845.0,404.7 845.2,404.8 845.5,403.6 845.8,405.2 846.0,404.8 846.2,404.7 846.5,403.7 846.8,405.6 847.0,405.5 847.2,404.5 847.5,404.7 847.8,405.0 848.0,405.7 848.2,405.6 848.5,405.2 848.8,405.4 849.0,404.8 849.2,405.1 849.5,404.2 849.8,405.8 850.0,405.0 850.2,405.0 850.5,404.5 850.8,404.0 851.0,403.3 851.2,404.3 851.5,404.7 851.8,404.9 852.0,405.6 852.2,405.7 852.5,404.6 852.8,404.7 853.0,405.7 853.2,403.7 853.5,404.7 853.8,405.3 854.0,405.1 854.2,404.9 854.5,405.7 854.8,404.8 855.0,404.7 855.2,405.3 855.5,405.2 855.8,405.6 856.0,405.7 856.2,405.6 856.5,403.4 856.8,405.0 857.0,405.2 857.2,405.5 857.5,404.5 857.8,404.6 858.0,404.8 858.2,404.1 858.5,403.7 858.8,405.0 859.0,404.8 859.2,403.8 859.5,405.6 859.8,404.7 860.0,405.5 860.2,404.5 860.5,405.4 860.8,405.1 861.0,405.3 861.2,405.1 861.5,405.3 861.8,404.2 862.0,405.8 862.2,404.3 862.5,404.0 862.8,404.7 863.0,406.3 863.2,404.6 863.5,404.3 863.8,404.4 864.0,405.0 864.2,405.0 864.5,405.0 864.8,405.4 865.0,406.5 865.2,405.1 865.5,405.5 865.8,405.3 866.0,405.5 866.2,406.2 866.5,405.8 866.8,404.7 867.0,406.1 867.2,406.2 867.5,405.3 867.8,406.4 868.0,405.7 868.2,404.1 868.5,404.7 868.8,403.8 869.0,404.1 869.2,403.6 869.5,404.0 869.8,403.9 870.0,401.6 870.2,403.0 870.5,402.3 870.8,402.6 871.0,401.8 871.2,400.1 871.5,401.2 871.8,401.4 872.0,401.1 872.2,400.6 872.5,399.6 872.8,399.6 873.0,399.8 873.2,399.7 873.5,400.4 873.8,401.0 874.0,401.5 874.2,402.2 874.5,401.9 874.8,402.6 875.0,402.6 875.2,402.5 875.5,403.6 875.8,403.2 876.0,403.5 876.2,404.8 876.5,404.4 876.8,404.4 877.0,405.6 877.2,405.5 877.5,405.5 877.8,404.7 878.0,403.3 878.2,403.3 878.5,404.6 878.8,406.4 879.0,404.8 879.2,404.8 879.5,405.6 879.8,405.9 880.0,405.6 880.2,405.4 880.5,405.2 880.8,404.9 881.0,404.5 881.2,403.6 881.5,405.1 881.8,404.7 882.0,405.1 882.2,405.3 882.5,403.7 882.8,403.7 883.0,404.6 883.2,403.0 883.5,404.1 883.8,403.8 884.0,404.2 884.2,403.0 884.5,403.8 884.8,402.1 885.0,403.1 885.2,402.3 885.5,401.7 885.8,401.8 886.0,402.3 886.2,400.6 886.5,401.2 886.8,400.4 887.0,401.9 887.2,402.2 887.5,401.6 887.8,402.4 888.0,402.1 888.2,403.2 888.5,404.3 888.8,403.4 889.0,403.9 889.2,402.8 889.5,405.2 889.8,403.5 890.0,404.5 890.2,404.3 890.5,405.4 890.8,404.7 891.0,404.6 891.2,404.0 891.5,405.9 891.8,404.1 892.0,406.2 892.2,406.1 892.5,406.4 892.8,404.7 893.0,405.0 893.2,405.5 893.5,406.1 893.8,404.8 894.0,406.1 894.2,404.5 894.5,405.8 894.8,405.2 895.0,405.3 895.2,405.0 895.5,405.5 895.8,404.2 896.0,406.2 896.2,405.1 896.5,405.3 896.8,405.1 897.0,405.9 897.2,405.7 897.5,405.2 897.8,404.9 898.0,406.5 898.2,405.2 898.5,405.7 898.8,405.2 899.0,406.0 899.2,406.0 899.5,405.7 899.8,406.0 900.0,406.1 900.2,403.9 900.5,404.9 900.8,404.5 901.0,405.7 901.2,405.5 901.5,404.8 901.8,406.4 902.0,405.5 902.2,406.4 902.5,404.9 902.8,405.7 903.0,405.8 903.2,404.8 903.5,405.3 903.8,405.0 904.0,404.7 904.2,405.4 904.5,404.0 904.8,405.9 905.0,405.5 905.2,404.2 905.5,405.1 905.8,403.3 906.0,403.4 906.2,404.7 906.5,404.1 906.8,403.2 907.0,404.3 907.2,403.1 907.5,403.1 907.8,403.2 908.0,403.4 908.2,403.2 908.5,402.3 908.8,403.0 909.0,403.5 909.2,403.9 909.5,403.3 909.8,403.9 910.0,404.0 910.2,403.0 910.5,403.5 910.8,405.1 911.0,403.8 911.2,404.7 911.5,403.6 911.8,406.3 912.0,404.2 912.2,405.2 912.5,405.4 912.8,404.3 913.0,405.2 913.2,406.1 913.5,405.3 913.8,406.4 914.0,405.5 914.2,406.3 914.5,407.0 914.8,404.8 915.0,405.6 915.2,404.9 915.5,404.4 915.8,405.3 916.0,405.6 916.2,405.5 916.5,405.5 916.8,403.7 917.0,404.5 917.2,403.5 917.5,405.1 917.8,405.4 918.0,405.3 918.2,404.7 918.5,405.5 918.8,405.8 919.0,405.6 919.2,404.5 919.5,404.7 919.8,405.6 920.0,405.0 920.2,405.0 920.5,404.9 920.8,405.4 921.0,405.5 921.2,405.1 921.5,405.2 921.8,405.0 922.0,405.6 922.2,405.9 922.5,404.8 922.8,406.7 923.0,405.0 923.2,405.8 923.5,405.2 923.8,405.3 924.0,405.7 924.2,406.0 924.5,405.7 924.8,406.2 925.0,405.0 925.2,406.0 925.5,404.3 925.8,405.4 926.0,405.1 926.2,404.8 926.5,404.9 926.8,404.6 927.0,405.4 927.2,404.8 927.5,405.6 927.8,405.7 928.0,405.5 928.2,405.4 928.5,405.0 928.8,406.2 929.0,406.2 929.2,405.1 929.5,404.6 929.8,405.3 930.0,406.3 930.2,404.6 930.5,405.8 930.8,405.6 931.0,406.4 931.2,405.1 931.5,406.1 931.8,405.2 932.0,406.2 932.2,406.9 932.5,405.6 932.8,406.8 933.0,405.8 933.2,406.0 933.5,407.0 933.8,406.1 934.0,405.6 934.2,403.9 934.5,404.8 934.8,405.4 935.0,404.6 935.2,404.6 935.5,405.3 935.8,404.2 936.0,404.2 936.2,405.7 936.5,406.6 936.8,405.2 937.0,405.8 937.2,406.3 937.5,405.4 937.8,405.5 938.0,406.0 938.2,405.3 938.5,405.3 938.8,406.6 939.0,404.0 939.2,406.5 939.5,406.1 939.8,405.0 940.0,405.8 940.2,405.3 940.5,404.8 940.8,405.2 941.0,405.5 941.2,407.0 941.5,405.1 941.8,404.9 942.0,405.6 942.2,405.5 942.5,407.2 942.8,405.5 943.0,404.8 943.2,404.8 943.5,405.0 943.8,404.1 944.0,405.3 944.2,404.8 944.5,405.0 944.8,406.3 945.0,406.2 945.2,406.1 945.5,405.0 945.8,405.4 946.0,405.2 946.2,405.2 946.5,405.3 946.8,405.1 947.0,406.0 947.2,405.0 947.5,406.4 947.8,405.9 948.0,405.6 948.2,406.1 948.5,405.9 948.8,405.9 949.0,406.7 949.2,406.0 949.5,408.6 949.8,405.2 950.0,404.9 950.2,406.5 950.5,405.3 950.8,405.2 951.0,404.9 951.2,405.3 951.5,405.1 951.8,406.0 952.0,405.1 952.2,405.6 952.5,406.1 952.8,405.9 953.0,405.5 953.2,404.8 953.5,404.5 953.8,404.4 954.0,405.6 954.2,405.0 954.5,404.8 954.8,405.2 955.0,405.6 955.2,406.3 955.5,406.1 955.8,405.8 956.0,405.1 956.2,406.3 956.5,406.1 956.8,406.2 957.0,405.5 957.2,406.1 957.5,406.7 957.8,405.9 958.0,406.3 958.2,405.8 958.5,405.4 958.8,406.3 959.0,405.3 959.2,405.4 959.5,404.4 959.8,405.8 960.0,404.8 960.2,405.0 960.5,404.7 960.8,405.2 961.0,405.0 961.2,404.8 961.5,405.7 961.8,405.9 962.0,405.3 962.2,406.2 962.5,406.4 962.8,405.1 963.0,405.6 963.2,405.4 963.5,404.2 963.8,404.6 964.0,404.1 964.2,406.4 964.5,405.3 964.8,405.5 965.0,406.5 965.2,407.0 965.5,406.1 965.8,406.8 966.0,406.7 966.2,408.0 966.5,404.9 966.8,405.1 967.0,405.0 967.2,405.9 967.5,405.1 967.8,406.1 968.0,404.5 968.2,406.7 968.5,406.6 968.8,407.1 969.0,406.7 969.2,406.4 969.5,406.3 969.8,404.8 970.0,405.5 970.2,405.8 970.5,406.8 970.8,405.9 971.0,404.8 971.2,407.5 971.5,405.7 971.8,406.5 972.0,405.8 972.2,404.3 972.5,406.8 972.8,405.9 973.0,406.4 973.2,405.5 973.5,406.2 973.8,406.7 974.0,406.2 974.2,405.9 974.5,405.4 974.8,405.5 975.0,404.8 975.2,405.7 975.5,406.1 975.8,404.7 976.0,404.7 976.2,406.9 976.5,406.0 976.8,407.0 977.0,406.2 977.2,406.3 977.5,405.9 977.8,406.9 978.0,406.7 978.2,405.7 978.5,404.5 978.8,404.8 979.0,405.4 979.2,404.9 979.5,405.9 979.8,405.7 980.0,405.9 980.2,406.0 980.5,405.9 980.8,406.1 981.0,406.0 981.2,405.0 981.5,405.7 981.8,405.8 982.0,406.2 982.2,405.4 982.5,404.9 982.8,406.8 983.0,406.2 983.2,406.5 983.5,406.8 983.8,405.9 984.0,406.8 984.2,406.6 984.5,405.7 984.8,406.5 985.0,406.6 985.2,406.7 985.5,406.1 985.8,406.4 986.0,405.9 986.2,407.1 986.5,405.4 986.8,406.5 987.0,406.3 987.2,406.1 987.5,406.4 987.8,405.8 988.0,405.0 988.2,404.8 988.5,404.7 988.8,405.5 989.0,405.8 989.2,405.6 989.5,405.9 989.8,405.9 990.0,405.5 990.2,405.3 990.5,405.7 990.8,405.6 991.0,407.1 991.2,406.7 991.5,405.8 991.8,406.1 992.0,406.7 992.2,406.0 992.5,406.8 992.8,406.3 993.0,406.2 993.2,406.2"/>
<path class="cv cv2" d="M81.0,729.7 81.2,727.9 81.5,727.5 81.8,725.3 82.0,728.3 82.2,728.2 82.5,728.1 82.8,729.2 83.0,729.4 83.2,727.7 83.5,727.5 83.8,728.1 84.0,729.1 84.2,728.9 84.5,726.9 84.8,726.7 85.0,728.8 85.2,730.0 85.5,728.3 85.8,727.4 86.0,729.4 86.2,727.7 86.5,729.0 86.8,729.8 87.0,728.5 87.2,728.3 87.5,729.2 87.8,727.8 88.0,728.3 88.2,727.5 88.5,727.9 88.8,728.0 89.0,728.2 89.2,728.0 89.5,728.7 89.8,729.0 90.0,729.5 90.2,731.1 90.5,728.2 90.8,731.1 91.0,729.5 91.2,728.2 91.5,729.2 91.8,729.6 92.0,730.5 92.2,728.0 92.5,729.5 92.8,729.2 93.0,727.7 93.2,728.2 93.5,730.0 93.8,729.8 94.0,730.2 94.2,729.6 94.5,729.7 94.8,729.5 95.0,730.2 95.2,727.9 95.5,729.4 95.8,730.0 96.0,727.9 96.2,731.2 96.5,728.9 96.8,729.8 97.0,732.4 97.2,729.2 97.5,729.7 97.8,731.8 98.0,729.3 98.2,729.8 98.5,730.5 98.8,730.4 99.0,730.2 99.2,730.2 99.5,731.3 99.8,730.6 100.0,730.6 100.2,729.5 100.5,729.9 100.8,729.0 101.0,731.5 101.2,729.2 101.5,732.1 101.8,733.1 102.0,730.0 102.2,729.7 102.5,730.1 102.8,731.4 103.0,729.0 103.2,729.6 103.5,729.2 103.8,729.5 104.0,731.1 104.2,728.0 104.5,729.0 104.8,729.4 105.0,730.1 105.2,727.6 105.5,730.5 105.8,730.1 106.0,731.0 106.2,730.4 106.5,728.4 106.8,729.7 107.0,731.6 107.2,730.4 107.5,730.4 107.8,732.3 108.0,732.4 108.2,730.2 108.5,732.1 108.8,728.0 109.0,728.0 109.2,730.6 109.5,729.4 109.8,730.5 110.0,730.6 110.2,729.8 110.5,730.3 110.8,729.8 111.0,728.0 111.2,730.1 111.5,730.0 111.8,731.4 112.0,728.4 112.2,730.0 112.5,729.4 112.8,729.7 113.0,731.5 113.2,730.4 113.5,729.4 113.8,730.3 114.0,731.0 114.2,729.7 114.5,730.9 114.8,732.7 115.0,731.6 115.2,731.1 115.5,730.6 115.8,730.5 116.0,728.8 116.2,731.0 116.5,730.2 116.8,730.6 117.0,729.1 117.2,729.5 117.5,730.7 117.8,730.1 118.0,729.5 118.2,730.4 118.5,730.5 118.8,728.7 119.0,729.3 119.2,729.1 119.5,729.1 119.8,731.0 120.0,730.8 120.2,730.8 120.5,729.3 120.8,729.2 121.0,729.9 121.2,729.5 121.5,730.3 121.8,729.7 122.0,730.7 122.2,731.7 122.5,731.4 122.8,731.7 123.0,730.2 123.2,730.9 123.5,729.6 123.8,731.0 124.0,729.7 124.2,729.8 124.5,729.4 124.8,730.5 125.0,729.7 125.2,729.8 125.5,728.3 125.8,729.9 126.0,728.0 126.2,731.6 126.5,730.2 126.8,731.0 127.0,730.4 127.2,729.1 127.5,729.1 127.8,730.9 128.0,732.3 128.2,729.7 128.5,730.0 128.8,730.7 129.0,728.7 129.2,728.4 129.5,729.6 129.8,729.8 130.0,729.3 130.2,731.3 130.5,729.6 130.8,730.4 131.0,731.7 131.2,731.7 131.5,728.5 131.8,729.7 132.0,731.4 132.2,728.4 132.5,729.1 132.8,729.2 133.0,729.3 133.2,729.5 133.5,731.0 133.8,732.2 134.0,732.8 134.2,731.1 134.5,729.1 134.8,730.7 135.0,730.5 135.2,731.0 135.5,730.2 135.8,728.5 136.0,730.8 136.2,728.0 136.5,729.9 136.8,730.7 137.0,730.7 137.2,732.4 137.5,728.5 137.8,730.9 138.0,731.5 138.2,730.4 138.5,731.8 138.8,730.3 139.0,731.9 139.2,732.2 139.5,731.0 139.8,731.0 140.0,731.7 140.2,731.3 140.5,733.0 140.8,732.6 141.0,733.5 141.2,733.4 141.5,732.7 141.8,731.9 142.0,731.0 142.2,730.8 142.5,730.2 142.8,731.0 143.0,729.7 143.2,730.7 143.5,730.9 143.8,729.8 144.0,730.1 144.2,731.9 144.5,732.3 144.8,729.7 145.0,730.0 145.2,730.2 145.5,730.6 145.8,732.7 146.0,731.9 146.2,732.4 146.5,733.3 146.8,731.1 147.0,731.0 147.2,731.1 147.5,731.9 147.8,730.7 148.0,731.5 148.2,731.8 148.5,732.0 148.8,731.6 149.0,730.2 149.2,729.9 149.5,733.0 149.8,732.4 150.0,731.0 150.2,731.7 150.5,731.2 150.8,730.6 151.0,732.0 151.2,730.7 151.5,731.4 151.8,732.2 152.0,731.0 152.2,731.9 152.5,731.4 152.8,731.2 153.0,731.0 153.2,733.0 153.5,731.1 153.8,733.1 154.0,730.6 154.2,732.4 154.5,732.1 154.8,731.3 155.0,729.3 155.2,733.5 155.5,730.4 155.8,730.4 156.0,731.4 156.2,730.8 156.5,731.2 156.8,730.5 157.0,729.3 157.2,731.9 157.5,730.2 157.8,731.5 158.0,732.4 158.2,732.6 158.5,731.5 158.8,731.3 159.0,731.8 159.2,729.8 159.5,730.6 159.8,730.1 160.0,730.4 160.2,731.6 160.5,731.4 160.8,733.2 161.0,733.5 161.2,730.1 161.5,732.1 161.8,730.7 162.0,732.3 162.2,731.6 162.5,732.3 162.8,731.1 163.0,731.3 163.2,730.1 163.5,727.7 163.8,728.8 164.0,729.6 164.2,729.9 164.5,729.7 164.8,732.9 165.0,731.1 165.2,732.8 165.5,731.3 165.8,732.8 166.0,730.2 166.2,732.2 166.5,730.6 166.8,732.8 167.0,733.7 167.2,730.6 167.5,731.2 167.8,732.2 168.0,731.1 168.2,729.5 168.5,731.9 168.8,731.3 169.0,732.5 169.2,731.7 169.5,730.4 169.8,731.7 170.0,733.3 170.2,730.3 170.5,730.9 170.8,731.5 171.0,731.6 171.2,731.3 171.5,728.7 171.8,732.4 172.0,730.7 172.2,730.9 172.5,731.5 172.8,731.7 173.0,730.9 173.2,731.5 173.5,733.0 173.8,729.9 174.0,728.6 174.2,731.6 174.5,731.2 174.8,731.4 175.0,732.6 175.2,730.0 175.5,730.8 175.8,731.2 176.0,731.8 176.2,731.6 176.5,729.9 176.8,729.3 177.0,731.3 177.2,730.0 177.5,732.7 177.8,731.4 178.0,731.6 178.2,731.0 178.5,733.7 178.8,731.6 179.0,731.0 179.2,732.1 179.5,731.3 179.8,731.9 180.0,732.8 180.2,731.0 180.5,732.0 180.8,731.8 181.0,732.7 181.2,732.1 181.5,731.4 181.8,730.4 182.0,731.3 182.2,729.8 182.5,731.9 182.8,731.6 183.0,732.3 183.2,731.1 183.5,731.2 183.8,730.8 184.0,733.2 184.2,731.5 184.5,731.2 184.8,729.4 185.0,731.4 185.2,727.9 185.5,733.1 185.8,731.6 186.0,731.8 186.2,730.1 186.5,730.9 186.8,732.5 187.0,731.5 187.2,732.0 187.5,732.5 187.8,732.2 188.0,729.6 188.2,730.0 188.5,729.8 188.8,730.1 189.0,729.2 189.2,729.5 189.5,730.7 189.8,730.5 190.0,732.2 190.2,731.4 190.5,733.2 190.8,729.6 191.0,730.1 191.2,731.8 191.5,731.6 191.8,730.4 192.0,732.3 192.2,732.6 192.5,733.0 192.8,731.2 193.0,731.7 193.2,731.9 193.5,731.4 193.8,732.5 194.0,730.9 194.2,731.9 194.5,729.0 194.8,731.7 195.0,732.1 195.2,730.6 195.5,731.4 195.8,728.5 196.0,729.8 196.2,728.5 196.5,730.5 196.8,730.9 197.0,728.9 197.2,729.9 197.5,730.0 197.8,733.1 198.0,730.6 198.2,730.7 198.5,731.0 198.8,731.0 199.0,730.0 199.2,728.9 199.5,729.5 199.8,732.0 200.0,730.3 200.2,729.8 200.5,729.0 200.8,730.7 201.0,731.5 201.2,730.3 201.5,731.9 201.8,731.1 202.0,731.0 202.2,732.1 202.5,731.3 202.8,731.4 203.0,730.7 203.2,730.6 203.5,731.2 203.8,731.3 204.0,731.9 204.2,731.6 204.5,731.1 204.8,731.3 205.0,731.3 205.2,730.0 205.5,731.1 205.8,731.2 206.0,732.5 206.2,731.0 206.5,732.7 206.8,730.7 207.0,732.1 207.2,732.8 207.5,731.4 207.8,732.9 208.0,729.7 208.2,731.9 208.5,731.7 208.8,731.2 209.0,730.0 209.2,732.0 209.5,728.4 209.8,731.8 210.0,731.0 210.2,732.0 210.5,730.5 210.8,729.9 211.0,730.7 211.2,731.3 211.5,732.4 211.8,731.4 212.0,732.2 212.2,732.0 212.5,732.9 212.8,729.5 213.0,730.9 213.2,732.1 213.5,732.2 213.8,730.3 214.0,730.8 214.2,730.7 214.5,731.0 214.8,729.9 215.0,729.8 215.2,729.2 215.5,730.6 215.8,732.1 216.0,729.6 216.2,731.5 216.5,732.8 216.8,730.5 217.0,732.4 217.2,729.4 217.5,731.7 217.8,730.2 218.0,729.0 218.2,731.0 218.5,733.2 218.8,731.0 219.0,732.2 219.2,730.8 219.5,730.8 219.8,732.6 220.0,731.4 220.2,731.9 220.5,732.5 220.8,729.9 221.0,730.1 221.2,730.5 221.5,732.5 221.8,730.3 222.0,730.1 222.2,731.2 222.5,733.0 222.8,730.3 223.0,730.9 223.2,731.3 223.5,732.0 223.8,733.7 224.0,730.1 224.2,729.5 224.5,731.3 224.8,732.1 225.0,729.5 225.2,730.9 225.5,732.5 225.8,731.2 226.0,732.6 226.2,732.4 226.5,732.5 226.8,731.5 227.0,731.1 227.2,732.0 227.5,729.9 227.8,730.3 228.0,731.1 228.2,729.6 228.5,730.2 228.8,729.9 229.0,729.6 229.2,732.7 229.5,731.0 229.8,732.7 230.0,731.4 230.2,730.8 230.5,730.5 230.8,731.4 231.0,730.7 231.2,731.9 231.5,729.9 231.8,730.8 232.0,731.0 232.2,730.2 232.5,730.2 232.8,731.1 233.0,731.4 233.2,730.5 233.5,730.7 233.8,730.0 234.0,731.0 234.2,730.3 234.5,729.2 234.8,730.0 235.0,731.5 235.2,730.8 235.5,729.7 235.8,731.5 236.0,731.0 236.2,730.6 236.5,731.4 236.8,729.3 237.0,730.8 237.2,730.1 237.5,731.9 237.8,732.3 238.0,731.6 238.2,732.3 238.5,730.9 238.8,732.0 239.0,729.9 239.2,733.2 239.5,732.2 239.8,729.3 240.0,727.9 240.2,731.5 240.5,729.8 240.8,731.4 241.0,729.1 241.2,730.7 241.5,730.5 241.8,731.9 242.0,731.3 242.2,732.5 242.5,729.9 242.8,732.6 243.0,731.0 243.2,731.1 243.5,728.5 243.8,728.0 244.0,731.1 244.2,728.9 244.5,729.3 244.8,729.7 245.0,729.1 245.2,730.6 245.5,729.3 245.8,729.9 246.0,732.1 246.2,730.1 246.5,731.1 246.8,731.2 247.0,731.7 247.2,730.7 247.5,727.7 247.8,729.0 248.0,729.5 248.2,731.6 248.5,730.8 248.8,729.7 249.0,730.3 249.2,729.9 249.5,730.7 249.8,730.1 250.0,730.9 250.2,729.8 250.5,730.8 250.8,730.0 251.0,731.0 251.2,730.2 251.5,731.0 251.8,730.5 252.0,730.2 252.2,730.2 252.5,730.1 252.8,730.5 253.0,727.0 253.2,731.2 253.5,727.5 253.8,729.6 254.0,729.4 254.2,730.7 254.5,730.6 254.8,730.5 255.0,730.4 255.2,731.1 255.5,732.7 255.8,730.4 256.0,727.4 256.2,728.7 256.5,729.8 256.8,732.7 257.0,728.5 257.2,728.4 257.5,729.6 257.8,729.1 258.0,727.4 258.2,729.7 258.5,727.8 258.8,729.0 259.0,730.9 259.2,727.9 259.5,729.4 259.8,731.7 260.0,729.5 260.2,728.2 260.5,728.7 260.8,730.1 261.0,727.4 261.2,728.2 261.5,726.4 261.8,725.9 262.0,727.5 262.2,724.0 262.5,721.5 262.8,719.5 263.0,713.7 263.2,708.6 263.5,706.7 263.8,701.2 264.0,695.2 264.2,694.3 264.5,694.6 264.8,695.8 265.0,699.5 265.2,702.1 265.5,709.1 265.8,711.1 266.0,718.8 266.2,721.3 266.5,725.3 266.8,724.6 267.0,727.9 267.2,725.7 267.5,727.5 267.8,729.5 268.0,729.0 268.2,728.8 268.5,727.3 268.8,730.7 269.0,730.2 269.2,730.7 269.5,730.5 269.8,729.5 270.0,730.5 270.2,733.2 270.5,729.6 270.8,730.9 271.0,729.8 271.2,732.3 271.5,730.2 271.8,728.8 272.0,728.7 272.2,727.9 272.5,726.8 272.8,726.8 273.0,728.6 273.2,728.3 273.5,729.5 273.8,729.1 274.0,729.8 274.2,731.9 274.5,728.8 274.8,729.0 275.0,731.1 275.2,732.6 275.5,728.9 275.8,728.2 276.0,729.3 276.2,728.8 276.5,730.2 276.8,728.6 277.0,729.4 277.2,729.4 277.5,728.1 277.8,728.5 278.0,730.6 278.2,731.0 278.5,729.7 278.8,732.6 279.0,731.8 279.2,731.3 279.5,731.2 279.8,731.1 280.0,731.4 280.2,731.2 280.5,730.2 280.8,727.9 281.0,729.9 281.2,729.4 281.5,729.2 281.8,730.7 282.0,728.2 282.2,731.1 282.5,729.7 282.8,729.2 283.0,729.3 283.2,732.6 283.5,731.5 283.8,729.7 284.0,731.2 284.2,731.8 284.5,728.5 284.8,729.1 285.0,730.5 285.2,730.1 285.5,729.1 285.8,730.9 286.0,729.5 286.2,729.5 286.5,731.3 286.8,729.6 287.0,731.8 287.2,729.3 287.5,729.1 287.8,729.5 288.0,731.0 288.2,730.4 288.5,729.8 288.8,728.0 289.0,728.3 289.2,728.9 289.5,730.0 289.8,730.7 290.0,726.7 290.2,728.8 290.5,728.7 290.8,729.2 291.0,730.0 291.2,729.0 291.5,728.2 291.8,731.0 292.0,731.2 292.2,729.6 292.5,729.8 292.8,729.3 293.0,728.8 293.2,731.1 293.5,728.8 293.8,728.3 294.0,728.7 294.2,731.2 294.5,729.6 294.8,729.0 295.0,728.9 295.2,730.2 295.5,729.9 295.8,727.6 296.0,728.8 296.2,728.3 296.5,729.4 296.8,728.7 297.0,727.0 297.2,730.3 297.5,729.6 297.8,727.9 298.0,731.1 298.2,730.1 298.5,730.8 298.8,729.9 299.0,730.6 299.2,729.4 299.5,727.7 299.8,728.8 300.0,729.6 300.2,729.6 300.5,730.4 300.8,729.3 301.0,727.4 301.2,730.3 301.5,728.8 301.8,728.3 302.0,729.1 302.2,727.9 302.5,729.9 302.8,728.5 303.0,732.0 303.2,729.2 303.5,728.6 303.8,728.3 304.0,726.2 304.2,727.8 304.5,727.9 304.8,728.5 305.0,726.3 305.2,729.1 305.5,731.0 305.8,729.3 306.0,729.5 306.2,729.5 306.5,728.0 306.8,728.8 307.0,730.4 307.2,729.4 307.5,727.9 307.8,727.0 308.0,731.7 308.2,729.3 308.5,726.6 308.8,728.2 309.0,728.7 309.2,727.6 309.5,725.5 309.8,729.6 310.0,728.3 310.2,727.3 310.5,728.5 310.8,727.2 311.0,727.2 311.2,728.5 311.5,725.3 311.8,729.0 312.0,728.2 312.2,728.3 312.5,728.7 312.8,729.5 313.0,729.2 313.2,728.8 313.5,727.1 313.8,728.3 314.0,727.2 314.2,726.2 314.5,728.1 314.8,728.2 315.0,728.9 315.2,724.6 315.5,728.0 315.8,727.2 316.0,726.3 316.2,727.7 316.5,724.4 316.8,725.9 317.0,725.1 317.2,725.1 317.5,724.5 317.8,725.3 318.0,725.8 318.2,725.1 318.5,724.6 318.8,723.2 319.0,725.7 319.2,722.2 319.5,723.4 319.8,723.6 320.0,722.5 320.2,723.8 320.5,722.4 320.8,724.2 321.0,722.7 321.2,722.0 321.5,720.6 321.8,721.6 322.0,722.3 322.2,721.4 322.5,719.7 322.8,719.8 323.0,719.5 323.2,719.9 323.5,717.8 323.8,721.6 324.0,718.8 324.2,718.4 324.5,717.2 324.8,717.3 325.0,718.9 325.2,714.6 325.5,714.2 325.8,712.6 326.0,712.3 326.2,714.2 326.5,710.2 326.8,709.4 327.0,706.9 327.2,707.7 327.5,707.1 327.8,704.6 328.0,703.1 328.2,703.6 328.5,701.1 328.8,697.8 329.0,694.6 329.2,691.4 329.5,693.5 329.8,686.3 330.0,685.8 330.2,681.5 330.5,676.8 330.8,674.6 331.0,667.6 331.2,665.2 331.5,655.6 331.8,651.8 332.0,646.3 332.2,635.6 332.5,633.7 332.8,622.9 333.0,608.6 333.2,606.7 333.5,599.3 333.8,585.8 334.0,577.2 334.2,569.7 334.5,557.9 334.8,556.7 335.0,553.5 335.2,548.5 335.5,552.3 335.8,557.3 336.0,554.6 336.2,562.1 336.5,571.8 336.8,582.9 337.0,591.7 337.2,597.5 337.5,605.2 337.8,613.5 338.0,626.4 338.2,629.2 338.5,637.5 338.8,646.9 339.0,652.0 339.2,656.7 339.5,666.4 339.8,669.0 340.0,672.6 340.2,676.8 340.5,681.9 340.8,683.5 341.0,687.9 341.2,691.2 341.5,693.8 341.8,692.0 342.0,696.4 342.2,698.8 342.5,700.4 342.8,702.8 343.0,704.4 343.2,703.2 343.5,703.9 343.8,706.4 344.0,705.9 344.2,709.9 344.5,708.6 344.8,709.3 345.0,711.3 345.2,709.0 345.5,710.3 345.8,710.5 346.0,712.3 346.2,713.1 346.5,712.8 346.8,712.8 347.0,711.3 347.2,711.6 347.5,711.1 347.8,712.8 348.0,710.5 348.2,711.1 348.5,711.5 348.8,712.3 349.0,710.1 349.2,711.0 349.5,710.3 349.8,709.8 350.0,712.5 350.2,710.6 350.5,707.4 350.8,707.5 351.0,708.6 351.2,705.6 351.5,704.1 351.8,706.6 352.0,704.1 352.2,702.9 352.5,703.0 352.8,699.8 353.0,699.9 353.2,698.3 353.5,696.9 353.8,692.4 354.0,693.1 354.2,688.9 354.5,687.9 354.8,682.2 355.0,677.3 355.2,673.1 355.5,667.7 355.8,664.7 356.0,659.8 356.2,655.5 356.5,647.8 356.8,639.3 357.0,635.0 357.2,624.8 357.5,617.5 357.8,610.3 358.0,601.6 358.2,588.9 358.5,582.2 358.8,577.7 359.0,571.2 359.2,567.2 359.5,566.4 359.8,561.8 360.0,568.5 360.2,571.7 360.5,580.0 360.8,588.7 361.0,598.5 361.2,608.8 361.5,616.6 361.8,624.4 362.0,631.7 362.2,642.4 362.5,647.9 362.8,651.0 363.0,659.9 363.2,666.5 363.5,669.9 363.8,676.0 364.0,682.0 364.2,682.9 364.5,686.0 364.8,688.8 365.0,689.9 365.2,692.2 365.5,693.7 365.8,696.4 366.0,696.6 366.2,700.7 366.5,700.3 366.8,701.8 367.0,699.4 367.2,701.8 367.5,703.1 367.8,703.8 368.0,702.7 368.2,704.0 368.5,705.5 368.8,706.0 369.0,706.3 369.2,707.3 369.5,705.9 369.8,705.6 370.0,708.1 370.2,709.5 370.5,705.8 370.8,711.1 371.0,710.1 371.2,710.5 371.5,708.3 371.8,708.6 372.0,710.9 372.2,710.3 372.5,707.9 372.8,706.8 373.0,706.4 373.2,707.7 373.5,704.5 373.8,703.7 374.0,704.2 374.2,704.8 374.5,700.6 374.8,701.9 375.0,700.8 375.2,699.8 375.5,698.5 375.8,699.7 376.0,698.4 376.2,694.1 376.5,696.9 376.8,694.0 377.0,691.5 377.2,688.3 377.5,686.2 377.8,680.6 378.0,682.0 378.2,680.9 378.5,678.8 378.8,674.4 379.0,669.0 379.2,668.2 379.5,665.5 379.8,664.4 380.0,655.6 380.2,652.8 380.5,648.3 380.8,642.1 381.0,633.1 381.2,622.0 381.5,619.7 381.8,609.5 382.0,601.9 382.2,589.5 382.5,579.7 382.8,572.4 383.0,557.4 383.2,545.2 383.5,531.9 383.8,523.0 384.0,504.1 384.2,494.6 384.5,485.5 384.8,474.2 385.0,467.6 385.2,460.9 385.5,458.8 385.8,454.3 386.0,455.7 386.2,461.2 386.5,463.9 386.8,480.0 387.0,485.2 387.2,502.4 387.5,516.0 387.8,528.4 388.0,540.0 388.2,551.0 388.5,560.9 388.8,577.7 389.0,586.7 389.2,600.4 389.5,606.5 389.8,616.5 390.0,623.5 390.2,632.1 390.5,638.2 390.8,644.7 391.0,647.3 391.2,654.7 391.5,660.2 391.8,666.3 392.0,669.1 392.2,669.7 392.5,677.4 392.8,678.9 393.0,683.0 393.2,683.5 393.5,682.9 393.8,688.9 394.0,690.5 394.2,694.7 394.5,694.0 394.8,696.5 395.0,697.1 395.2,700.2 395.5,700.3 395.8,705.4 396.0,705.3 396.2,706.5 396.5,706.3 396.8,707.9 397.0,709.9 397.2,708.5 397.5,712.2 397.8,711.5 398.0,714.1 398.2,715.9 398.5,715.5 398.8,712.6 399.0,716.2 399.2,714.9 399.5,715.4 399.8,715.8 400.0,715.2 400.2,717.8 400.5,717.3 400.8,719.7 401.0,719.1 401.2,715.9 401.5,718.8 401.8,719.5 402.0,719.3 402.2,719.4 402.5,720.8 402.8,720.9 403.0,719.9 403.2,722.3 403.5,722.7 403.8,722.6 404.0,724.4 404.2,724.1 404.5,722.6 404.8,723.0 405.0,723.6 405.2,724.5 405.5,723.9 405.8,724.8 406.0,724.8 406.2,722.9 406.5,722.7 406.8,724.1 407.0,725.2 407.2,726.1 407.5,726.4 407.8,726.5 408.0,724.5 408.2,726.5 408.5,725.1 408.8,726.3 409.0,727.1 409.2,725.4 409.5,726.4 409.8,729.6 410.0,725.5 410.2,726.0 410.5,725.6 410.8,725.6 411.0,728.5 411.2,726.4 411.5,726.5 411.8,726.7 412.0,724.8 412.2,729.3 412.5,727.9 412.8,728.5 413.0,730.7 413.2,728.7 413.5,728.9 413.8,729.1 414.0,730.0 414.2,726.8 414.5,727.8 414.8,725.9 415.0,729.0 415.2,730.3 415.5,728.8 415.8,731.5 416.0,730.2 416.2,731.1 416.5,728.4 416.8,730.4 417.0,727.5 417.2,728.7 417.5,728.4 417.8,728.0 418.0,730.5 418.2,730.3 418.5,728.0 418.8,729.9 419.0,729.3 419.2,729.5 419.5,729.9 419.8,728.9 420.0,729.9 420.2,730.0 420.5,729.0 420.8,729.1 421.0,730.9 421.2,730.2 421.5,732.5 421.8,732.0 422.0,728.9 422.2,729.6 422.5,726.4 422.8,727.5 423.0,725.9 423.2,724.8 423.5,721.7 423.8,722.8 424.0,721.4 424.2,719.6 424.5,720.1 424.8,722.1 425.0,724.1 425.2,722.1 425.5,727.3 425.8,724.5 426.0,726.7 426.2,728.3 426.5,731.5 426.8,731.1 427.0,731.6 427.2,732.5 427.5,731.0 427.8,730.7 428.0,733.0 428.2,731.1 428.5,730.2 428.8,729.5 429.0,731.8 429.2,733.9 429.5,732.0 429.8,730.6 430.0,731.7 430.2,728.2 430.5,730.2 430.8,729.5 431.0,731.6 431.2,729.4 431.5,731.7 431.8,731.1 432.0,731.0 432.2,731.6 432.5,730.5 432.8,732.2 433.0,730.4 433.2,727.8 433.5,731.8 433.8,731.7 434.0,730.9 434.2,731.8 434.5,730.9 434.8,729.5 435.0,728.7 435.2,729.7 435.5,730.7 435.8,731.8 436.0,729.5 436.2,730.3 436.5,732.7 436.8,729.9 437.0,729.7 437.2,729.6 437.5,732.6 437.8,731.9 438.0,731.9 438.2,732.8 438.5,731.9 438.8,732.6 439.0,731.6 439.2,732.2 439.5,731.7 439.8,732.2 440.0,730.2 440.2,731.4 440.5,731.1 440.8,730.8 441.0,731.4 441.2,733.9 441.5,732.6 441.8,731.8 442.0,732.2 442.2,733.2 442.5,730.4 442.8,732.3 443.0,732.9 443.2,733.2 443.5,732.2 443.8,732.3 444.0,729.9 444.2,730.8 444.5,731.4 444.8,732.3 445.0,732.0 445.2,729.0 445.5,730.6 445.8,731.4 446.0,730.1 446.2,730.7 446.5,731.6 446.8,731.7 447.0,731.7 447.2,732.0 447.5,732.6 447.8,731.2 448.0,730.6 448.2,730.8 448.5,731.3 448.8,731.4 449.0,730.2 449.2,730.4 449.5,731.5 449.8,732.8 450.0,731.7 450.2,730.7 450.5,732.3 450.8,731.4 451.0,732.2 451.2,732.5 451.5,732.2 451.8,732.3 452.0,733.0 452.2,731.4 452.5,732.2 452.8,729.6 453.0,731.8 453.2,733.8 453.5,731.9 453.8,732.2 454.0,731.6 454.2,731.1 454.5,732.7 454.8,731.9 455.0,733.1 455.2,730.8 455.5,731.8 455.8,731.3 456.0,731.1 456.2,732.7 456.5,730.9 456.8,730.9 457.0,734.2 457.2,731.2 457.5,731.4 457.8,732.2 458.0,730.8 458.2,732.3 458.5,730.0 458.8,731.1 459.0,731.3 459.2,733.1 459.5,731.6 459.8,733.0 460.0,732.9 460.2,730.8 460.5,732.2 460.8,730.9 461.0,730.9 461.2,733.4 461.5,733.9 461.8,732.3 462.0,732.4 462.2,731.7 462.5,731.2 462.8,731.0 463.0,729.6 463.2,731.3 463.5,729.6 463.8,729.5 464.0,730.7 464.2,731.6 464.5,732.6 464.8,731.7 465.0,731.4 465.2,730.4 465.5,731.3 465.8,731.5 466.0,731.3 466.2,730.2 466.5,732.8 466.8,732.1 467.0,732.0 467.2,731.1 467.5,730.4 467.8,731.8 468.0,729.2 468.2,730.4 468.5,729.9 468.8,731.4 469.0,730.5 469.2,732.4 469.5,728.9 469.8,732.4 470.0,731.3 470.2,732.2 470.5,730.5 470.8,732.8 471.0,731.7 471.2,732.6 471.5,730.5 471.8,732.6 472.0,732.4 472.2,730.1 472.5,731.2 472.8,730.7 473.0,731.6 473.2,730.5 473.5,731.3 473.8,732.4 474.0,729.9 474.2,733.0 474.5,731.5 474.8,731.3 475.0,730.1 475.2,729.7 475.5,732.6 475.8,731.3 476.0,731.1 476.2,732.7 476.5,732.0 476.8,731.3 477.0,729.2 477.2,728.6 477.5,731.6 477.8,730.8 478.0,730.5 478.2,733.1 478.5,730.3 478.8,731.2 479.0,733.2 479.2,731.8 479.5,730.4 479.8,730.1 480.0,732.4 480.2,729.8 480.5,732.3 480.8,732.9 481.0,730.9 481.2,732.3 481.5,731.3 481.8,732.6 482.0,731.3 482.2,730.2 482.5,731.2 482.8,731.2 483.0,729.8 483.2,730.7 483.5,729.6 483.8,729.9 484.0,731.3 484.2,728.9 484.5,730.9 484.8,731.0 485.0,730.1 485.2,732.3 485.5,731.7 485.8,730.3 486.0,731.4 486.2,732.3 486.5,729.3 486.8,731.3 487.0,730.8 487.2,731.4 487.5,733.8 487.8,730.4 488.0,730.6 488.2,729.8 488.5,731.1 488.8,731.6 489.0,728.0 489.2,732.2 489.5,732.1 489.8,727.5 490.0,728.6 490.2,730.6 490.5,729.7 490.8,731.0 491.0,729.0 491.2,730.9 491.5,727.5 491.8,729.5 492.0,728.6 492.2,728.7 492.5,727.4 492.8,729.6 493.0,731.7 493.2,729.3 493.5,729.8 493.8,730.7 494.0,729.7 494.2,731.0 494.5,730.9 494.8,729.6 495.0,727.9 495.2,731.8 495.5,729.7 495.8,729.7 496.0,729.4 496.2,728.7 496.5,727.6 496.8,729.3 497.0,729.3 497.2,730.3 497.5,730.5 497.8,727.7 498.0,730.2 498.2,728.7 498.5,729.1 498.8,727.0 499.0,729.0 499.2,727.9 499.5,729.5 499.8,727.4 500.0,728.5 500.2,727.9 500.5,728.7 500.8,727.8 501.0,727.2 501.2,726.4 501.5,727.7 501.8,727.6 502.0,726.1 502.2,727.1 502.5,725.6 502.8,726.2 503.0,725.4 503.2,725.0 503.5,726.1 503.8,722.6 504.0,727.0 504.2,722.4 504.5,726.2 504.8,725.8 505.0,723.4 505.2,725.0 505.5,723.3 505.8,721.3 506.0,723.8 506.2,722.9 506.5,721.0 506.8,721.7 507.0,718.7 507.2,717.2 507.5,718.7 507.8,715.4 508.0,716.8 508.2,716.8 508.5,715.0 508.8,714.4 509.0,714.7 509.2,713.6 509.5,711.5 509.8,706.4 510.0,709.3 510.2,706.6 510.5,709.0 510.8,705.9 511.0,706.0 511.2,705.9 511.5,705.3 511.8,701.5 512.0,705.4 512.2,702.7 512.5,701.5 512.8,698.4 513.0,701.9 513.2,699.3 513.5,699.4 513.8,696.5 514.0,698.9 514.2,698.4 514.5,696.2 514.8,698.9 515.0,694.7 515.2,697.8 515.5,697.9 515.8,698.6 516.0,697.3 516.2,698.5 516.5,701.7 516.8,702.8 517.0,702.4 517.2,703.4 517.5,703.9 517.8,707.4 518.0,706.1 518.2,706.1 518.5,705.1 518.8,705.9 519.0,707.6 519.2,707.8 519.5,710.3 519.8,711.6 520.0,711.4 520.2,713.1 520.5,714.6 520.8,713.1 521.0,716.1 521.2,712.7 521.5,719.7 521.8,716.1 522.0,718.5 522.2,718.2 522.5,720.0 522.8,719.5 523.0,721.1 523.2,718.5 523.5,721.9 523.8,721.1 524.0,722.6 524.2,723.9 524.5,722.0 524.8,723.3 525.0,723.7 525.2,724.8 525.5,725.5 525.8,726.0 526.0,725.7 526.2,724.7 526.5,726.0 526.8,727.1 527.0,727.2 527.2,729.0 527.5,726.2 527.8,727.0 528.0,725.9 528.2,727.1 528.5,728.3 528.8,729.1 529.0,726.9 529.2,728.3 529.5,728.0 529.8,728.8 530.0,728.3 530.2,727.6 530.5,725.7 530.8,726.5 531.0,729.0 531.2,728.6 531.5,731.0 531.8,728.9 532.0,730.7 532.2,728.7 532.5,729.3 532.8,730.7 533.0,732.6 533.2,731.3 533.5,730.3 533.8,730.7 534.0,730.8 534.2,730.5 534.5,730.5 534.8,729.3 535.0,729.5 535.2,730.5 535.5,730.7 535.8,729.6 536.0,732.4 536.2,731.1 536.5,730.0 536.8,731.2 537.0,732.8 537.2,730.9 537.5,730.5 537.8,731.5 538.0,729.4 538.2,730.4 538.5,729.8 538.8,731.8 539.0,728.7 539.2,730.9 539.5,730.2 539.8,730.7 540.0,730.2 540.2,732.4 540.5,729.8 540.8,729.7 541.0,732.0 541.2,730.7 541.5,731.7 541.8,731.2 542.0,731.7 542.2,732.4 542.5,730.5 542.8,730.1 543.0,734.9 543.2,731.1 543.5,733.2 543.8,731.1 544.0,731.5 544.2,731.0 544.5,733.0 544.8,730.8 545.0,729.4 545.2,730.1 545.5,732.3 545.8,733.1 546.0,734.7 546.2,735.0 546.5,731.3 546.8,732.9 547.0,730.9 547.2,732.2 547.5,733.1 547.8,729.9 548.0,732.8 548.2,732.7 548.5,731.5 548.8,731.5 549.0,734.0 549.2,732.0 549.5,731.2 549.8,732.4 550.0,733.3 550.2,732.3 550.5,729.4 550.8,730.3 551.0,731.1 551.2,731.9 551.5,731.7 551.8,730.2 552.0,732.8 552.2,732.2 552.5,729.9 552.8,730.6 553.0,731.5 553.2,729.4 553.5,731.6 553.8,732.0 554.0,731.6 554.2,733.0 554.5,734.5 554.8,731.7 555.0,733.3 555.2,732.4 555.5,734.6 555.8,734.5 556.0,732.8 556.2,732.4 556.5,734.7 556.8,733.8 557.0,732.3 557.2,732.4 557.5,733.0 557.8,736.1 558.0,734.9 558.2,734.4 558.5,733.8 558.8,734.5 559.0,734.7 559.2,732.3 559.5,733.6 559.8,733.6 560.0,733.5 560.2,733.7 560.5,730.2 560.8,733.1 561.0,731.4 561.2,733.9 561.5,731.9 561.8,732.4 562.0,732.9 562.2,730.5 562.5,732.5 562.8,731.4 563.0,733.6 563.2,731.8 563.5,731.3 563.8,733.1 564.0,731.3 564.2,730.6 564.5,731.3 564.8,731.6 565.0,732.2 565.2,731.0 565.5,733.5 565.8,732.9 566.0,734.6 566.2,733.8 566.5,731.7 566.8,734.0 567.0,732.5 567.2,733.1 567.5,730.5 567.8,731.5 568.0,734.4 568.2,734.3 568.5,731.1 568.8,733.1 569.0,732.9 569.2,734.1 569.5,731.9 569.8,730.7 570.0,733.1 570.2,732.5 570.5,733.0 570.8,732.9 571.0,734.8 571.2,732.1 571.5,734.6 571.8,733.8 572.0,732.4 572.2,734.2 572.5,734.3 572.8,733.7 573.0,733.5 573.2,734.7 573.5,733.3 573.8,734.5 574.0,735.5 574.2,732.2 574.5,731.6 574.8,733.9 575.0,731.8 575.2,732.3 575.5,733.0 575.8,731.9 576.0,733.1 576.2,731.9 576.5,732.3 576.8,732.8 577.0,733.7 577.2,732.6 577.5,733.6 577.8,733.8 578.0,733.8 578.2,733.3 578.5,734.6 578.8,731.9 579.0,733.7 579.2,734.0 579.5,733.8 579.8,732.1 580.0,733.2 580.2,732.9 580.5,731.4 580.8,732.6 581.0,731.2 581.2,732.2 581.5,733.3 581.8,733.1 582.0,731.4 582.2,731.0 582.5,731.9 582.8,732.2 583.0,733.7 583.2,732.3 583.5,733.8 583.8,731.9 584.0,734.1 584.2,731.4 584.5,732.0 584.8,733.2 585.0,734.3 585.2,734.2 585.5,732.5 585.8,731.9 586.0,732.9 586.2,733.0 586.5,732.4 586.8,732.9 587.0,731.4 587.2,733.5 587.5,733.5 587.8,731.6 588.0,731.4 588.2,733.4 588.5,733.1 588.8,730.9 589.0,731.2 589.2,730.2 589.5,732.7 589.8,732.5 590.0,732.3 590.2,734.7 590.5,732.2 590.8,732.1 591.0,732.4 591.2,731.8 591.5,733.2 591.8,731.9 592.0,732.2 592.2,734.5 592.5,731.1 592.8,731.0 593.0,732.6 593.2,731.7 593.5,731.5 593.8,732.4 594.0,733.4 594.2,730.7 594.5,732.0 594.8,729.6 595.0,732.9 595.2,730.6 595.5,732.6 595.8,733.9 596.0,733.7 596.2,732.4 596.5,729.4 596.8,733.6 597.0,731.4 597.2,732.3 597.5,730.6 597.8,730.5 598.0,732.4 598.2,728.9 598.5,729.7 598.8,730.5 599.0,731.9 599.2,727.8 599.5,731.6 599.8,729.7 600.0,730.8 600.2,732.7 600.5,730.6 600.8,731.3 601.0,732.0 601.2,730.4 601.5,731.4 601.8,731.5 602.0,731.9 602.2,731.0 602.5,730.3 602.8,729.9 603.0,731.4 603.2,728.7 603.5,730.3 603.8,731.6 604.0,728.5 604.2,728.7 604.5,731.4 604.8,729.6 605.0,729.7 605.2,730.9 605.5,730.3 605.8,729.4 606.0,729.5 606.2,728.1 606.5,728.9 606.8,729.4 607.0,730.6 607.2,730.8 607.5,731.9 607.8,729.6 608.0,730.8 608.2,729.8 608.5,727.9 608.8,728.8 609.0,729.1 609.2,729.4 609.5,729.1 609.8,728.0 610.0,727.1 610.2,727.5 610.5,727.6 610.8,727.4 611.0,727.2 611.2,726.2 611.5,726.5 611.8,727.1 612.0,725.8 612.2,725.1 612.5,724.0 612.8,725.9 613.0,727.1 613.2,726.0 613.5,727.9 613.8,724.9 614.0,725.7 614.2,725.6 614.5,723.4 614.8,725.1 615.0,722.8 615.2,721.9 615.5,720.5 615.8,722.3 616.0,722.0 616.2,718.5 616.5,717.5 616.8,717.4 617.0,717.0 617.2,715.8 617.5,717.1 617.8,714.6 618.0,717.9 618.2,715.1 618.5,715.1 618.8,712.4 619.0,712.4 619.2,711.2 619.5,706.1 619.8,705.2 620.0,703.6 620.2,700.6 620.5,696.4 620.8,694.6 621.0,694.2 621.2,691.4 621.5,687.6 621.8,686.6 622.0,679.8 622.2,680.1 622.5,678.6 622.8,674.8 623.0,669.5 623.2,666.9 623.5,664.2 623.8,661.2 624.0,657.1 624.2,654.0 624.5,653.5 624.8,650.7 625.0,648.7 625.2,652.7 625.5,647.9 625.8,650.2 626.0,651.5 626.2,651.2 626.5,656.9 626.8,656.0 627.0,664.7 627.2,663.2 627.5,667.7 627.8,671.6 628.0,675.6 628.2,678.9 628.5,683.8 628.8,687.5 629.0,691.8 629.2,689.6 629.5,695.4 629.8,697.0 630.0,697.9 630.2,699.2 630.5,706.8 630.8,706.9 631.0,704.3 631.2,711.0 631.5,711.0 631.8,711.7 632.0,713.0 632.2,711.8 632.5,713.4 632.8,715.6 633.0,713.5 633.2,714.1 633.5,715.2 633.8,719.4 634.0,717.6 634.2,719.1 634.5,719.8 634.8,721.9 635.0,722.4 635.2,721.2 635.5,724.4 635.8,724.0 636.0,724.7 636.2,723.9 636.5,724.4 636.8,724.1 637.0,725.0 637.2,725.7 637.5,725.9 637.8,725.5 638.0,725.9 638.2,726.8 638.5,727.9 638.8,728.3 639.0,726.6 639.2,724.9 639.5,726.5 639.8,726.8 640.0,726.7 640.2,727.4 640.5,726.1 640.8,727.4 641.0,724.8 641.2,730.1 641.5,728.0 641.8,728.0 642.0,729.4 642.2,728.4 642.5,727.9 642.8,729.8 643.0,728.6 643.2,727.9 643.5,729.7 643.8,729.0 644.0,729.2 644.2,728.8 644.5,730.2 644.8,728.1 645.0,730.7 645.2,731.3 645.5,729.4 645.8,730.8 646.0,728.2 646.2,730.7 646.5,728.5 646.8,728.7 647.0,730.6 647.2,730.8 647.5,730.3 647.8,729.5 648.0,729.1 648.2,730.4 648.5,733.2 648.8,732.3 649.0,729.3 649.2,729.8 649.5,728.9 649.8,731.1 650.0,730.1 650.2,728.4 650.5,729.7 650.8,729.7 651.0,729.3 651.2,730.1 651.5,731.4 651.8,729.2 652.0,730.4 652.2,729.1 652.5,729.9 652.8,732.3 653.0,731.2 653.2,729.9 653.5,729.9 653.8,731.8 654.0,730.2 654.2,729.9 654.5,731.5 654.8,729.4 655.0,728.4 655.2,730.0 655.5,728.4 655.8,729.1 656.0,728.6 656.2,729.9 656.5,730.0 656.8,732.7 657.0,730.8 657.2,729.7 657.5,730.4 657.8,729.9 658.0,730.2 658.2,730.7 658.5,730.4 658.8,731.7 659.0,730.9 659.2,729.7 659.5,730.7 659.8,729.6 660.0,733.2 660.2,728.4 660.5,730.1 660.8,730.2 661.0,728.6 661.2,728.7 661.5,729.7 661.8,726.9 662.0,729.7 662.2,728.8 662.5,728.9 662.8,731.3 663.0,730.0 663.2,729.2 663.5,728.4 663.8,729.0 664.0,728.4 664.2,730.6 664.5,728.5 664.8,727.6 665.0,727.9 665.2,729.1 665.5,727.3 665.8,727.6 666.0,727.0 666.2,726.4 666.5,731.3 666.8,728.9 667.0,730.7 667.2,729.0 667.5,728.8 667.8,726.7 668.0,727.9 668.2,728.0 668.5,726.4 668.8,728.4 669.0,729.0 669.2,728.3 669.5,727.8 669.8,725.5 670.0,730.8 670.2,728.2 670.5,726.1 670.8,726.0 671.0,726.2 671.2,725.7 671.5,726.3 671.8,725.4 672.0,726.6 672.2,725.6 672.5,725.3 672.8,724.1 673.0,725.8 673.2,726.2 673.5,724.5 673.8,723.3 674.0,725.3 674.2,722.8 674.5,723.6 674.8,724.5 675.0,725.0 675.2,723.3 675.5,724.1 675.8,724.7 676.0,722.0 676.2,723.0 676.5,724.2 676.8,725.1 677.0,721.5 677.2,720.5 677.5,722.9 677.8,722.8 678.0,720.1 678.2,720.2 678.5,721.0 678.8,719.1 679.0,716.3 679.2,718.5 679.5,718.9 679.8,715.3 680.0,717.6 680.2,715.0 680.5,712.6 680.8,714.8 681.0,712.1 681.2,715.3 681.5,713.1 681.8,715.0 682.0,709.8 682.2,711.1 682.5,712.9 682.8,712.2 683.0,710.7 683.2,709.8 683.5,709.5 683.8,709.1 684.0,709.4 684.2,703.3 684.5,703.2 684.8,702.7 685.0,703.2 685.2,702.0 685.5,700.4 685.8,699.6 686.0,699.8 686.2,699.8 686.5,695.8 686.8,695.1 687.0,694.6 687.2,696.9 687.5,691.6 687.8,692.3 688.0,690.6 688.2,689.2 688.5,690.7 688.8,689.1 689.0,688.5 689.2,689.3 689.5,689.6 689.8,688.4 690.0,688.6 690.2,691.6 690.5,688.8 690.8,691.1 691.0,689.7 691.2,689.2 691.5,689.0 691.8,688.6 692.0,692.6 692.2,692.9 692.5,691.2 692.8,690.9 693.0,692.0 693.2,693.9 693.5,696.3 693.8,694.6 694.0,694.4 694.2,699.1 694.5,699.5 694.8,700.0 695.0,699.1 695.2,703.5 695.5,705.1 695.8,702.5 696.0,702.3 696.2,704.9 696.5,706.1 696.8,708.4 697.0,708.7 697.2,707.4 697.5,711.4 697.8,712.3 698.0,711.2 698.2,712.8 698.5,711.3 698.8,713.2 699.0,712.5 699.2,714.7 699.5,716.2 699.8,713.3 700.0,716.6 700.2,718.0 700.5,717.7 700.8,720.3 701.0,718.6 701.2,722.0 701.5,720.2 701.8,718.8 702.0,720.8 702.2,720.6 702.5,723.0 702.8,723.4 703.0,723.5 703.2,722.2 703.5,721.5 703.8,720.8 704.0,720.5 704.2,723.0 704.5,721.1 704.8,723.1 705.0,724.0 705.2,724.6 705.5,723.4 705.8,723.8 706.0,724.2 706.2,726.7 706.5,724.0 706.8,724.6 707.0,727.0 707.2,727.1 707.5,728.2 707.8,726.2 708.0,727.9 708.2,724.9 708.5,727.7 708.8,727.9 709.0,728.4 709.2,726.8 709.5,729.1 709.8,729.8 710.0,727.6 710.2,727.5 710.5,727.1 710.8,726.9 711.0,727.6 711.2,726.0 711.5,725.0 711.8,726.6 712.0,726.5 712.2,728.6 712.5,727.3 712.8,726.2 713.0,725.9 713.2,728.3 713.5,727.7 713.8,727.0 714.0,731.1 714.2,726.9 714.5,731.1 714.8,732.4 715.0,729.0 715.2,728.1 715.5,729.5 715.8,727.6 716.0,728.7 716.2,729.6 716.5,727.4 716.8,730.7 717.0,729.5 717.2,729.7 717.5,730.8 717.8,727.8 718.0,727.9 718.2,730.1 718.5,730.5 718.8,729.5 719.0,729.9 719.2,729.6 719.5,728.4 719.8,728.1 720.0,728.5 720.2,729.2 720.5,730.2 720.8,728.5 721.0,732.3 721.2,733.2 721.5,730.6 721.8,729.4 722.0,729.9 722.2,730.2 722.5,729.1 722.8,731.4 723.0,728.7 723.2,730.0 723.5,729.3 723.8,731.6 724.0,729.7 724.2,729.3 724.5,727.9 724.8,728.3 725.0,727.6 725.2,733.1 725.5,729.7 725.8,729.3 726.0,729.6 726.2,730.0 726.5,730.7 726.8,727.6 727.0,731.0 727.2,729.2 727.5,729.3 727.8,731.3 728.0,729.7 728.2,728.7 728.5,728.3 728.8,729.9 729.0,729.1 729.2,729.0 729.5,727.4 729.8,729.4 730.0,728.6 730.2,728.7 730.5,731.2 730.8,730.0 731.0,729.3 731.2,730.6 731.5,731.4 731.8,727.2 732.0,730.4 732.2,729.6 732.5,729.8 732.8,731.8 733.0,731.8 733.2,729.5 733.5,731.7 733.8,729.5 734.0,728.9 734.2,726.9 734.5,728.1 734.8,728.1 735.0,727.1 735.2,726.9 735.5,728.1 735.8,726.9 736.0,725.7 736.2,728.2 736.5,725.9 736.8,723.5 737.0,724.5 737.2,725.5 737.5,724.1 737.8,723.9 738.0,724.1 738.2,723.2 738.5,722.7 738.8,722.0 739.0,722.8 739.2,724.8 739.5,721.4 739.8,720.2 740.0,717.5 740.2,718.0 740.5,716.3 740.8,717.4 741.0,715.5 741.2,717.6 741.5,718.5 741.8,717.2 742.0,719.0 742.2,714.2 742.5,716.6 742.8,715.5 743.0,716.6 743.2,715.3 743.5,716.9 743.8,717.7 744.0,717.0 744.2,719.3 744.5,718.9 744.8,719.6 745.0,717.9 745.2,717.4 745.5,716.4 745.8,719.2 746.0,719.6 746.2,718.3 746.5,716.6 746.8,717.1 747.0,717.1 747.2,717.0 747.5,715.2 747.8,716.2 748.0,715.6 748.2,712.2 748.5,712.8 748.8,711.9 749.0,708.8 749.2,708.3 749.5,708.4 749.8,708.0 750.0,703.9 750.2,703.2 750.5,701.9 750.8,699.8 751.0,696.7 751.2,698.6 751.5,695.4 751.8,695.0 752.0,693.2 752.2,689.5 752.5,687.1 752.8,686.5 753.0,684.9 753.2,683.7 753.5,683.0 753.8,680.4 754.0,681.4 754.2,680.4 754.5,681.1 754.8,681.1 755.0,682.8 755.2,682.3 755.5,682.4 755.8,681.9 756.0,683.4 756.2,685.5 756.5,686.4 756.8,688.0 757.0,688.5 757.2,692.1 757.5,692.9 757.8,694.9 758.0,696.3 758.2,702.5 758.5,700.8 758.8,703.2 759.0,701.4 759.2,704.9 759.5,705.5 759.8,708.5 760.0,707.5 760.2,707.8 760.5,711.6 760.8,712.1 761.0,710.9 761.2,712.8 761.5,712.6 761.8,715.5 762.0,715.6 762.2,716.4 762.5,715.1 762.8,719.3 763.0,717.5 763.2,718.4 763.5,718.3 763.8,719.1 764.0,718.3 764.2,720.2 764.5,720.2 764.8,718.5 765.0,721.5 765.2,719.0 765.5,719.3 765.8,718.9 766.0,720.8 766.2,718.5 766.5,718.2 766.8,718.8 767.0,718.1 767.2,718.5 767.5,715.5 767.8,713.6 768.0,712.3 768.2,711.2 768.5,711.3 768.8,709.8 769.0,707.6 769.2,706.7 769.5,703.4 769.8,706.4 770.0,704.8 770.2,701.0 770.5,702.4 770.8,703.2 771.0,705.3 771.2,704.0 771.5,706.2 771.8,707.5 772.0,708.5 772.2,707.7 772.5,708.6 772.8,711.4 773.0,714.2 773.2,714.8 773.5,714.5 773.8,717.9 774.0,717.2 774.2,719.0 774.5,721.8 774.8,721.7 775.0,722.0 775.2,722.1 775.5,723.9 775.8,724.2 776.0,724.1 776.2,723.7 776.5,726.0 776.8,727.0 777.0,725.1 777.2,727.7 777.5,726.5 777.8,727.1 778.0,729.2 778.2,726.6 778.5,727.7 778.8,730.1 779.0,729.8 779.2,728.3 779.5,728.1 779.8,730.4 780.0,729.6 780.2,730.0 780.5,727.7 780.8,729.6 781.0,727.9 781.2,729.5 781.5,732.3 781.8,731.8 782.0,732.5 782.2,730.7 782.5,731.1 782.8,730.3 783.0,733.0 783.2,730.3 783.5,729.2 783.8,730.0 784.0,731.8 784.2,729.9 784.5,730.8 784.8,729.0 785.0,729.9 785.2,729.0 785.5,729.3 785.8,730.7 786.0,731.5 786.2,732.7 786.5,731.0 786.8,729.0 787.0,729.0 787.2,728.8 787.5,730.5 787.8,730.2 788.0,731.2 788.2,730.1 788.5,733.0 788.8,731.4 789.0,732.2 789.2,730.6 789.5,733.1 789.8,729.1 790.0,731.4 790.2,732.5 790.5,730.6 790.8,732.1 791.0,731.4 791.2,732.6 791.5,731.0 791.8,732.5 792.0,729.0 792.2,731.8 792.5,730.1 792.8,730.1 793.0,730.8 793.2,730.0 793.5,730.0 793.8,731.2 794.0,728.7 794.2,729.3 794.5,730.3 794.8,728.6 795.0,730.5 795.2,728.0 795.5,729.0 795.8,728.8 796.0,727.0 796.2,729.6 796.5,727.0 796.8,729.7 797.0,730.0 797.2,727.5 797.5,728.0 797.8,727.6 798.0,725.6 798.2,725.7 798.5,726.6 798.8,726.1 799.0,727.6 799.2,725.8 799.5,725.6 799.8,727.2 800.0,727.6 800.2,726.4 800.5,726.3 800.8,724.8 801.0,724.9 801.2,722.6 801.5,723.1 801.8,725.7 802.0,724.2 802.2,724.3 802.5,726.7 802.8,728.9 803.0,727.7 803.2,726.9 803.5,726.5 803.8,728.6 804.0,728.6 804.2,727.3 804.5,727.1 804.8,727.6 805.0,728.3 805.2,728.4 805.5,728.4 805.8,728.8 806.0,727.5 806.2,729.0 806.5,730.1 806.8,728.4 807.0,729.3 807.2,731.7 807.5,729.7 807.8,731.7 808.0,729.8 808.2,729.0 808.5,731.7 808.8,731.8 809.0,730.9 809.2,730.5 809.5,732.0 809.8,730.1 810.0,729.8 810.2,731.1 810.5,732.0 810.8,731.6 811.0,732.3 811.2,733.2 811.5,731.1 811.8,732.1 812.0,732.0 812.2,732.8 812.5,730.5 812.8,734.2 813.0,731.7 813.2,733.2 813.5,732.2 813.8,731.9 814.0,733.2 814.2,731.3 814.5,732.6 814.8,732.1 815.0,730.9 815.2,733.4 815.5,731.5 815.8,733.2 816.0,732.0 816.2,732.1 816.5,733.1 816.8,732.2 817.0,731.8 817.2,733.1 817.5,731.6 817.8,733.6 818.0,731.5 818.2,732.7 818.5,731.5 818.8,732.6 819.0,730.7 819.2,732.0 819.5,732.9 819.8,730.5 820.0,732.1 820.2,732.5 820.5,731.6 820.8,731.8 821.0,732.7 821.2,732.9 821.5,730.4 821.8,730.9 822.0,729.0 822.2,731.6 822.5,731.7 822.8,730.1 823.0,730.3 823.2,732.0 823.5,731.3 823.8,734.0 824.0,733.2 824.2,730.4 824.5,733.2 824.8,732.4 825.0,732.3 825.2,730.9 825.5,729.4 825.8,731.4 826.0,730.8 826.2,733.3 826.5,732.9 826.8,734.2 827.0,732.0 827.2,733.7 827.5,733.2 827.8,732.6 828.0,733.0 828.2,731.3 828.5,732.9 828.8,731.8 829.0,732.6 829.2,732.9 829.5,732.0 829.8,731.4 830.0,732.9 830.2,732.7 830.5,731.1 830.8,732.6 831.0,728.6 831.2,731.6 831.5,731.9 831.8,732.0 832.0,730.3 832.2,732.5 832.5,733.6 832.8,732.9 833.0,731.2 833.2,732.6 833.5,734.2 833.8,733.4 834.0,733.4 834.2,731.9 834.5,732.9 834.8,732.3 835.0,732.0 835.2,731.0 835.5,732.5 835.8,733.6 836.0,732.6 836.2,730.5 836.5,733.1 836.8,731.7 837.0,733.5 837.2,732.4 837.5,735.2 837.8,733.4 838.0,734.8 838.2,731.7 838.5,733.0 838.8,733.0 839.0,731.2 839.2,731.9 839.5,732.3 839.8,732.7 840.0,732.9 840.2,731.1 840.5,734.6 840.8,733.6 841.0,732.5 841.2,733.7 841.5,732.6 841.8,732.2 842.0,731.0 842.2,729.3 842.5,732.4 842.8,732.8 843.0,732.7 843.2,732.4 843.5,734.1 843.8,730.8 844.0,733.3 844.2,734.9 844.5,733.2 844.8,735.1 845.0,733.0 845.2,732.5 845.5,731.2 845.8,733.4 846.0,733.6 846.2,732.7 846.5,732.5 846.8,732.8 847.0,732.2 847.2,730.5 847.5,733.0 847.8,733.1 848.0,735.8 848.2,732.0 848.5,732.6 848.8,730.5 849.0,730.5 849.2,731.7 849.5,734.6 849.8,733.1 850.0,733.0 850.2,732.3 850.5,732.7 850.8,733.3 851.0,732.7 851.2,732.0 851.5,732.0 851.8,732.2 852.0,732.8 852.2,732.5 852.5,731.2 852.8,729.5 853.0,730.9 853.2,730.7 853.5,730.4 853.8,729.5 854.0,728.6 854.2,730.9 854.5,729.1 854.8,730.0 855.0,729.8 855.2,728.8 855.5,731.2 855.8,728.7 856.0,730.4 856.2,729.4 856.5,729.5 856.8,727.7 857.0,729.9 857.2,729.7 857.5,728.6 857.8,726.8 858.0,725.8 858.2,729.7 858.5,725.1 858.8,725.6 859.0,727.5 859.2,727.5 859.5,725.8 859.8,727.3 860.0,724.6 860.2,726.9 860.5,726.8 860.8,726.2 861.0,727.3 861.2,726.5 861.5,723.7 861.8,727.6 862.0,727.1 862.2,728.0 862.5,727.2 862.8,728.3 863.0,726.9 863.2,728.1 863.5,728.8 863.8,727.3 864.0,727.5 864.2,728.4 864.5,729.8 864.8,730.0 865.0,729.9 865.2,730.9 865.5,731.0 865.8,729.6 866.0,732.5 866.2,732.0 866.5,731.6 866.8,728.6 867.0,731.9 867.2,729.2 867.5,730.4 867.8,730.4 868.0,733.2 868.2,732.7 868.5,731.9 868.8,732.7 869.0,731.9 869.2,731.2 869.5,733.0 869.8,733.2 870.0,732.6 870.2,734.2 870.5,734.5 870.8,732.0 871.0,733.0 871.2,733.5 871.5,730.8 871.8,733.9 872.0,734.1 872.2,733.3 872.5,732.6 872.8,732.4 873.0,734.1 873.2,732.0 873.5,733.2 873.8,732.7 874.0,734.3 874.2,734.6 874.5,733.1 874.8,733.0 875.0,731.5 875.2,732.1 875.5,733.7 875.8,733.7 876.0,733.4 876.2,732.3 876.5,733.0 876.8,731.0 877.0,733.8 877.2,731.1 877.5,732.0 877.8,732.8 878.0,735.3 878.2,732.6 878.5,734.4 878.8,735.7 879.0,734.3 879.2,734.1 879.5,732.4 879.8,732.5 880.0,731.0 880.2,733.7 880.5,733.8 880.8,734.7 881.0,733.2 881.2,733.8 881.5,732.8 881.8,733.9 882.0,734.7 882.2,733.7 882.5,734.0 882.8,733.6 883.0,733.8 883.2,733.1 883.5,732.4 883.8,733.0 884.0,734.0 884.2,733.7 884.5,733.0 884.8,732.1 885.0,733.7 885.2,732.7 885.5,733.1 885.8,733.6 886.0,734.0 886.2,732.3 886.5,732.5 886.8,733.9 887.0,732.9 887.2,735.1 887.5,734.5 887.8,733.8 888.0,732.6 888.2,734.6 888.5,734.0 888.8,732.1 889.0,732.6 889.2,733.3 889.5,734.0 889.8,731.2 890.0,732.8 890.2,732.8 890.5,735.3 890.8,733.1 891.0,733.1 891.2,732.5 891.5,733.3 891.8,733.8 892.0,733.4 892.2,734.2 892.5,736.0 892.8,733.9 893.0,735.2 893.2,736.4 893.5,733.6 893.8,734.2 894.0,733.3 894.2,734.1 894.5,734.5 894.8,733.6 895.0,732.9 895.2,732.4 895.5,732.5 895.8,733.6 896.0,733.4 896.2,734.4 896.5,734.9 896.8,732.8 897.0,735.0 897.2,734.8 897.5,733.5 897.8,731.4 898.0,732.8 898.2,734.3 898.5,731.4 898.8,734.8 899.0,732.9 899.2,733.9 899.5,732.9 899.8,733.3 900.0,734.3 900.2,732.9 900.5,733.6 900.8,733.0 901.0,734.6 901.2,732.8 901.5,736.0 901.8,735.4 902.0,732.0 902.2,732.2 902.5,733.0 902.8,733.6 903.0,733.9 903.2,733.9 903.5,734.5 903.8,733.9 904.0,732.8 904.2,733.3 904.5,733.5 904.8,733.2 905.0,736.5 905.2,733.5 905.5,735.6 905.8,735.0 906.0,733.4 906.2,733.1 906.5,733.9 906.8,734.8 907.0,734.3 907.2,735.6 907.5,733.6 907.8,733.5 908.0,734.5 908.2,736.2 908.5,734.3 908.8,735.1 909.0,732.8 909.2,734.4 909.5,733.1 909.8,734.9 910.0,731.9 910.2,732.7 910.5,731.6 910.8,731.3 911.0,733.2 911.2,733.6 911.5,732.2 911.8,734.4 912.0,733.7 912.2,733.7 912.5,735.6 912.8,734.5 913.0,734.6 913.2,735.0 913.5,733.8 913.8,732.6 914.0,734.5 914.2,734.4 914.5,731.4 914.8,732.2 915.0,732.9 915.2,732.9 915.5,735.4 915.8,734.3 916.0,734.6 916.2,735.0 916.5,735.7 916.8,734.6 917.0,735.0 917.2,733.4 917.5,734.8 917.8,733.9 918.0,734.8 918.2,735.5 918.5,734.3 918.8,733.9 919.0,734.9 919.2,735.1 919.5,734.0 919.8,732.4 920.0,735.2 920.2,734.0 920.5,733.3 920.8,735.0 921.0,733.6 921.2,733.2 921.5,732.8 921.8,732.6 922.0,734.4 922.2,730.6 922.5,733.9 922.8,734.3 923.0,734.4 923.2,733.9 923.5,732.8 923.8,733.9 924.0,734.7 924.2,735.2 924.5,733.8 924.8,731.6 925.0,732.1 925.2,731.6 925.5,733.4 925.8,732.5 926.0,732.3 926.2,732.3 926.5,730.5 926.8,732.8 927.0,734.1 927.2,732.2 927.5,732.6 927.8,732.0 928.0,732.9 928.2,733.9 928.5,731.2 928.8,733.1 929.0,731.7 929.2,735.2 929.5,732.9 929.8,733.7 930.0,731.5 930.2,734.5 930.5,734.0 930.8,733.0 931.0,735.1 931.2,733.4 931.5,733.0 931.8,735.1 932.0,733.1 932.2,734.0 932.5,733.0 932.8,732.5 933.0,734.9 933.2,733.8 933.5,734.4 933.8,734.5 934.0,733.8 934.2,733.9 934.5,732.8 934.8,733.2 935.0,734.4 935.2,731.7 935.5,733.8 935.8,732.8 936.0,734.1 936.2,733.1 936.5,735.6 936.8,734.3 937.0,733.2 937.2,734.3 937.5,731.9 937.8,732.3 938.0,734.3 938.2,735.3 938.5,733.7 938.8,734.1 939.0,733.5 939.2,734.8 939.5,732.6 939.8,731.5 940.0,732.5 940.2,733.4 940.5,734.3 940.8,733.0 941.0,734.5 941.2,731.8 941.5,733.3 941.8,731.8 942.0,732.5 942.2,731.8 942.5,734.0 942.8,735.1 943.0,731.2 943.2,733.1 943.5,733.9 943.8,732.6 944.0,733.8 944.2,733.6 944.5,734.1 944.8,732.6 945.0,734.4 945.2,733.3 945.5,733.7 945.8,732.9 946.0,733.6 946.2,733.9 946.5,736.1 946.8,734.6 947.0,733.9 947.2,733.7 947.5,732.5 947.8,734.2 948.0,732.2 948.2,732.7 948.5,734.1 948.8,733.0 949.0,732.4 949.2,736.2 949.5,732.5 949.8,733.0 950.0,732.4 950.2,734.1 950.5,734.6 950.8,736.4 951.0,735.3 951.2,734.2 951.5,733.4 951.8,734.4 952.0,733.1 952.2,733.8 952.5,731.4 952.8,733.7 953.0,731.7 953.2,732.7 953.5,731.2 953.8,731.8 954.0,735.2 954.2,734.1 954.5,732.6 954.8,734.9 955.0,731.3 955.2,733.3 955.5,732.2 955.8,733.6 956.0,733.8 956.2,732.5 956.5,732.6 956.8,732.4 957.0,734.2 957.2,733.2 957.5,734.8 957.8,733.5 958.0,733.6 958.2,732.4 958.5,732.5 958.8,734.2 959.0,733.5 959.2,734.7 959.5,733.9 959.8,732.0 960.0,732.5 960.2,734.1 960.5,733.8 960.8,733.8 961.0,732.5 961.2,733.6 961.5,733.0 961.8,736.0 962.0,733.2 962.2,733.8 962.5,733.2 962.8,732.5 963.0,734.0 963.2,732.7 963.5,733.3 963.8,733.7 964.0,732.9 964.2,732.6 964.5,733.9 964.8,733.2 965.0,732.1 965.2,731.0 965.5,732.2 965.8,733.7 966.0,735.0 966.2,732.7 966.5,734.1 966.8,732.7 967.0,734.2 967.2,735.4 967.5,732.3 967.8,733.3 968.0,735.2 968.2,731.8 968.5,731.5 968.8,732.8 969.0,732.9 969.2,732.5 969.5,732.5 969.8,733.9 970.0,732.0 970.2,734.0 970.5,731.7 970.8,733.3 971.0,733.6 971.2,732.2 971.5,731.6 971.8,731.2 972.0,731.2 972.2,733.9 972.5,731.6 972.8,733.8 973.0,733.7 973.2,735.0 973.5,733.1 973.8,735.1 974.0,733.2 974.2,735.4 974.5,732.4 974.8,732.2 975.0,731.8 975.2,734.1 975.5,732.5 975.8,734.0 976.0,732.6 976.2,731.5 976.5,734.2 976.8,734.0 977.0,732.5 977.2,733.5 977.5,730.5 977.8,733.0 978.0,732.4 978.2,733.8 978.5,733.1 978.8,733.3 979.0,733.1 979.2,733.3 979.5,733.7 979.8,733.7 980.0,734.0 980.2,733.3 980.5,733.0 980.8,733.2 981.0,732.8 981.2,735.2 981.5,732.3 981.8,734.0 982.0,732.4 982.2,733.4 982.5,732.6 982.8,733.2 983.0,732.2 983.2,733.8 983.5,733.8 983.8,733.4 984.0,733.8 984.2,732.9 984.5,729.5 984.8,732.1 985.0,733.2 985.2,732.5 985.5,731.6 985.8,730.8 986.0,732.4 986.2,734.9 986.5,731.7 986.8,733.7 987.0,731.9 987.2,733.2 987.5,732.8 987.8,731.2 988.0,731.3 988.2,731.8 988.5,733.0 988.8,731.1 989.0,732.8 989.2,732.1 989.5,734.7 989.8,731.8 990.0,733.2 990.2,733.1 990.5,733.8 990.8,733.2 991.0,730.9 991.2,733.9 991.5,731.6 991.8,732.6 992.0,729.8 992.2,733.6 992.5,732.4 992.8,732.4 993.0,732.2 993.2,733.9"/>
<!-- frame -->
<g class="ax">
<line x1="79.6" y1="20.8" x2="79.6" y2="749.4" style="stroke-width:2.8"/>
<line x1="994.2" y1="20.8" x2="994.2" y2="749.4" style="stroke-width:2.8"/>
<line x1="78.3" y1="22" x2="995.5" y2="22" style="stroke-width:2.4"/>
<line x1="78.2" y1="737.2" x2="995.6" y2="737.2" style="stroke-width:3.0"/>
<line x1="79.60" y1="737.2" x2="79.60" y2="749.4" />
<line x1="102.47" y1="737.2" x2="102.47" y2="743.8" />
<line x1="125.33" y1="737.2" x2="125.33" y2="743.8" />
<line x1="148.19" y1="737.2" x2="148.19" y2="743.8" />
<line x1="171.06" y1="737.2" x2="171.06" y2="743.8" />
<line x1="193.93" y1="737.2" x2="193.93" y2="749.4" />
<line x1="216.79" y1="737.2" x2="216.79" y2="743.8" />
<line x1="239.66" y1="737.2" x2="239.66" y2="743.8" />
<line x1="262.52" y1="737.2" x2="262.52" y2="743.8" />
<line x1="285.38" y1="737.2" x2="285.38" y2="743.8" />
<line x1="308.25" y1="737.2" x2="308.25" y2="749.4" />
<line x1="331.12" y1="737.2" x2="331.12" y2="743.8" />
<line x1="353.98" y1="737.2" x2="353.98" y2="743.8" />
<line x1="376.85" y1="737.2" x2="376.85" y2="743.8" />
<line x1="399.71" y1="737.2" x2="399.71" y2="743.8" />
<line x1="422.58" y1="737.2" x2="422.58" y2="749.4" />
<line x1="445.44" y1="737.2" x2="445.44" y2="743.8" />
<line x1="468.31" y1="737.2" x2="468.31" y2="743.8" />
<line x1="491.17" y1="737.2" x2="491.17" y2="743.8" />
<line x1="514.04" y1="737.2" x2="514.04" y2="743.8" />
<line x1="536.90" y1="737.2" x2="536.90" y2="749.4" />
<line x1="559.77" y1="737.2" x2="559.77" y2="743.8" />
<line x1="582.63" y1="737.2" x2="582.63" y2="743.8" />
<line x1="605.50" y1="737.2" x2="605.50" y2="743.8" />
<line x1="628.36" y1="737.2" x2="628.36" y2="743.8" />
<line x1="651.23" y1="737.2" x2="651.23" y2="749.4" />
<line x1="674.09" y1="737.2" x2="674.09" y2="743.8" />
<line x1="696.96" y1="737.2" x2="696.96" y2="743.8" />
<line x1="719.82" y1="737.2" x2="719.82" y2="743.8" />
<line x1="742.69" y1="737.2" x2="742.69" y2="743.8" />
<line x1="765.55" y1="737.2" x2="765.55" y2="749.4" />
<line x1="788.42" y1="737.2" x2="788.42" y2="743.8" />
<line x1="811.28" y1="737.2" x2="811.28" y2="743.8" />
<line x1="834.14" y1="737.2" x2="834.14" y2="743.8" />
<line x1="857.01" y1="737.2" x2="857.01" y2="743.8" />
<line x1="879.88" y1="737.2" x2="879.88" y2="749.4" />
<line x1="902.74" y1="737.2" x2="902.74" y2="743.8" />
<line x1="925.61" y1="737.2" x2="925.61" y2="743.8" />
<line x1="948.47" y1="737.2" x2="948.47" y2="743.8" />
<line x1="971.34" y1="737.2" x2="971.34" y2="743.8" />
<line x1="994.20" y1="737.2" x2="994.20" y2="749.4" />
</g>
<g class="tl">
<text transform="translate(79.8,775.8) scale(1,1.03)" text-anchor="middle">10</text>
<text transform="translate(194.1,775.8) scale(1,1.03)" text-anchor="middle">20</text>
<text transform="translate(308.4,775.8) scale(1,1.03)" text-anchor="middle">30</text>
<text transform="translate(422.8,775.8) scale(1,1.03)" text-anchor="middle">40</text>
<text transform="translate(537.1,775.8) scale(1,1.03)" text-anchor="middle">50</text>
<text transform="translate(651.4,775.8) scale(1,1.03)" text-anchor="middle">60</text>
<text transform="translate(765.8,775.8) scale(1,1.03)" text-anchor="middle">70</text>
<text transform="translate(880.1,775.8) scale(1,1.03)" text-anchor="middle">80</text>
<text transform="translate(994.4,775.8) scale(1,1.03)" text-anchor="middle">90</text>
</g>
<!-- markers -->
<use href="#tri" x="116.9" y="360.9"/>
<use href="#tri" x="139.1" y="351.2"/>
<use href="#tri" x="170.3" y="191.0"/>
<use href="#tri" x="218.5" y="233.1"/>
<use href="#tri" x="268.8" y="60.2"/>
<use href="#tri" x="279.2" y="281.6"/>
<use href="#tri" x="296.2" y="233.1"/>
<use href="#tri" x="313.0" y="279.2"/>
<use href="#tri" x="355.5" y="373.4"/>
<use href="#tri" x="380.6" y="357.8"/>
<use href="#tri" x="406.2" y="346.4"/>
<use href="#tri" x="510.4" y="371.7"/>
<use href="#tri" x="542.6" y="387.9"/>
<use href="#tri" x="574.4" y="383.1"/>
<use href="#tri" x="601.4" y="376.9"/>
<use href="#tri" x="798.5" y="125.9"/>
<ellipse cx="200.0" cy="382.9" rx="5.7" ry="4.7" fill="#000"/>
<ellipse cx="231.9" cy="367.5" rx="5.6" ry="5.6" fill="#000"/>
<ellipse cx="288.0" cy="345.3" rx="5.4" ry="5.4" fill="#000"/>
<ellipse cx="324.5" cy="373.1" rx="5.7" ry="4.7" fill="#000"/>
<ellipse cx="796.0" cy="168.5" rx="6.7" ry="6.7" fill="#000"/>
<use href="#hex" x="333.5" y="529.8"/>
<use href="#hex" x="362.4" y="537.3"/>
<use href="#hex" x="387.9" y="437.0"/>
<use href="#hex" x="517.8" y="682.8"/>
<use href="#hex" x="628.8" y="632.3"/>
<use href="#hex" x="693.5" y="668.2"/>
<use href="#hex" x="741.0" y="686.9"/>
<use href="#hex" x="755.8" y="661.0"/>
<use href="#hex" x="780.0" y="677.2"/>
<use href="#hex" x="797.6" y="59.4"/>
<!-- axis titles -->
<text class="b" transform="translate(377,823) scale(1,1.03)" font-size="36.5" textLength="287" lengthAdjust="spacingAndGlyphs" id="xt">Two Theta (deg)</text>
<text class="b" transform="translate(44.9,510.6) rotate(-90) scale(1,1.06)" font-size="39.5" textLength="264.2" lengthAdjust="spacingAndGlyphs" id="yt">Intensity (a.u.)</text>
<!-- annotations -->
<text class="b" x="649" y="376" font-size="33.5" textLength="333.8" lengthAdjust="spacingAndGlyphs" id="sp">Synthesized product</text>
<text class="b" x="618.9" y="611.4" font-size="33.5" textLength="269.3" lengthAdjust="spacingAndGlyphs" id="an">Annealing at 850</text>
<text transform="translate(893.4,611.4) scale(0.877,1)" font-family="'Noto Sans CJK KR',sans-serif" font-size="31.7" id="an2">℃</text>
<text class="b" x="923.3" y="611.4" font-size="33.5" id="an3">, 3h</text>
<text x="225.6" y="650.9" font-size="20.8" stroke="#000" stroke-width="0.75" textLength="82.2" lengthAdjust="spacing" id="gr">graphite</text>
<path class="ar" d="M266.9,658.6 V681.5 M261.2,667.8 L266.9,682.3 L272.6,667.8"/>
<text class="th" transform="translate(407,677.3) scale(1,1.03)" font-size="20" id="cn">C<tspan font-size="14.5" dy="3.3">3</tspan><tspan dy="-3.3">N</tspan><tspan font-size="14.5" dy="3.3">4</tspan></text>
<path class="ar" d="M427.1,685.7 V709 M421.3,695 L427.1,709.6 L432.9,695"/>
<!-- legend -->
<g class="lg">
<text transform="translate(825.3,78.2) scale(1,1.04)" font-size="42" textLength="88.8" lengthAdjust="spacingAndGlyphs" id="l1">GaN</text>
<text transform="translate(0,129.2) scale(1,1.04)" font-size="41.5" id="l2"><tspan x="825">C</tspan><tspan x="857.2" dy="9.6" font-size="27.5">3</tspan><tspan x="873.7" dy="-9.6">H</tspan><tspan x="905.6" dy="9.6" font-size="27.5">6</tspan><tspan x="922.3" dy="-9.6">N</tspan><tspan x="953.3" dy="9.6" font-size="27.5">6</tspan></text>
<text transform="translate(0,180.4) scale(1,1.04)" font-size="41.5" id="l3"><tspan x="825">C</tspan><tspan x="857.2" dy="9.6" font-size="27.5">2</tspan><tspan x="873.7" dy="-9.6">H</tspan><tspan x="905.2" dy="9.6" font-size="27.5">4</tspan><tspan x="922.3" dy="-9.6">N</tspan><tspan x="953" dy="9.6" font-size="27.5">4</tspan></text>
</g>
</svg>
</body>
</html>
